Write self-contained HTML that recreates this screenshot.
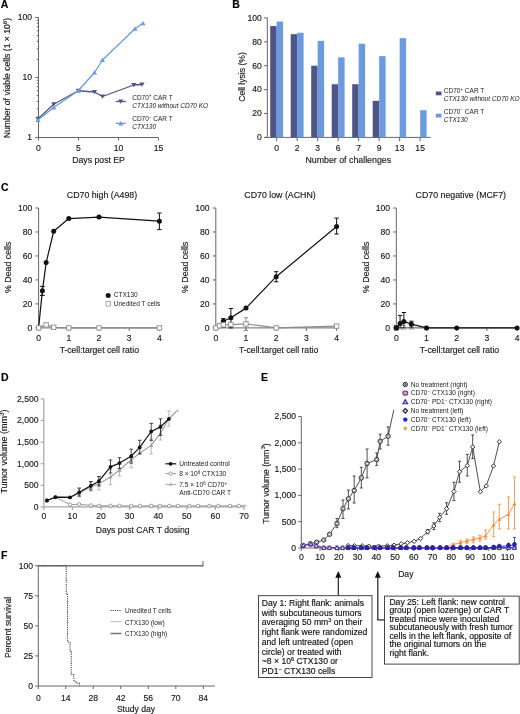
<!DOCTYPE html>
<html><head><meta charset="utf-8"><style>
html,body{margin:0;padding:0;background:#fff;width:520px;height:714px;overflow:hidden}
svg{display:block;filter:blur(0.35px);font-family:"Liberation Sans",sans-serif}
</style></head><body>
<svg width="520" height="714" viewBox="0 0 520 714">
<text x="0.80" y="7.80" font-size="10.5" text-anchor="start" font-weight="bold" font-style="normal" fill="#000" stroke="#000" stroke-width="0.15">A</text>
<line x1="38.50" y1="17.50" x2="38.50" y2="137.50" stroke="#666666" stroke-width="1"/>
<line x1="38.50" y1="137.50" x2="158.00" y2="137.50" stroke="#666666" stroke-width="1"/>
<line x1="35.30" y1="137.50" x2="38.50" y2="137.50" stroke="#666666" stroke-width="1"/>
<line x1="35.30" y1="77.50" x2="38.50" y2="77.50" stroke="#666666" stroke-width="1"/>
<line x1="35.30" y1="17.50" x2="38.50" y2="17.50" stroke="#666666" stroke-width="1"/>
<line x1="36.70" y1="119.44" x2="38.50" y2="119.44" stroke="#666666" stroke-width="1"/>
<line x1="36.70" y1="108.87" x2="38.50" y2="108.87" stroke="#666666" stroke-width="1"/>
<line x1="36.70" y1="101.38" x2="38.50" y2="101.38" stroke="#666666" stroke-width="1"/>
<line x1="36.70" y1="95.56" x2="38.50" y2="95.56" stroke="#666666" stroke-width="1"/>
<line x1="36.70" y1="90.81" x2="38.50" y2="90.81" stroke="#666666" stroke-width="1"/>
<line x1="36.70" y1="86.79" x2="38.50" y2="86.79" stroke="#666666" stroke-width="1"/>
<line x1="36.70" y1="83.31" x2="38.50" y2="83.31" stroke="#666666" stroke-width="1"/>
<line x1="36.70" y1="80.25" x2="38.50" y2="80.25" stroke="#666666" stroke-width="1"/>
<line x1="36.70" y1="59.44" x2="38.50" y2="59.44" stroke="#666666" stroke-width="1"/>
<line x1="36.70" y1="48.87" x2="38.50" y2="48.87" stroke="#666666" stroke-width="1"/>
<line x1="36.70" y1="41.38" x2="38.50" y2="41.38" stroke="#666666" stroke-width="1"/>
<line x1="36.70" y1="35.56" x2="38.50" y2="35.56" stroke="#666666" stroke-width="1"/>
<line x1="36.70" y1="30.81" x2="38.50" y2="30.81" stroke="#666666" stroke-width="1"/>
<line x1="36.70" y1="26.79" x2="38.50" y2="26.79" stroke="#666666" stroke-width="1"/>
<line x1="36.70" y1="23.31" x2="38.50" y2="23.31" stroke="#666666" stroke-width="1"/>
<line x1="36.70" y1="20.25" x2="38.50" y2="20.25" stroke="#666666" stroke-width="1"/>
<line x1="38.50" y1="137.50" x2="38.50" y2="140.50" stroke="#666666" stroke-width="1"/>
<text x="38.50" y="151.10" font-size="8.6" text-anchor="middle" font-weight="normal" font-style="normal" fill="#1a1a1a" stroke="#1a1a1a" stroke-width="0.15">0</text>
<line x1="78.50" y1="137.50" x2="78.50" y2="140.50" stroke="#666666" stroke-width="1"/>
<text x="78.50" y="151.10" font-size="8.6" text-anchor="middle" font-weight="normal" font-style="normal" fill="#1a1a1a" stroke="#1a1a1a" stroke-width="0.15">5</text>
<line x1="118.50" y1="137.50" x2="118.50" y2="140.50" stroke="#666666" stroke-width="1"/>
<text x="118.50" y="151.10" font-size="8.6" text-anchor="middle" font-weight="normal" font-style="normal" fill="#1a1a1a" stroke="#1a1a1a" stroke-width="0.15">10</text>
<line x1="158.50" y1="137.50" x2="158.50" y2="140.50" stroke="#666666" stroke-width="1"/>
<text x="158.50" y="151.10" font-size="8.6" text-anchor="middle" font-weight="normal" font-style="normal" fill="#1a1a1a" stroke="#1a1a1a" stroke-width="0.15">15</text>
<text x="32.00" y="140.30" font-size="8.6" text-anchor="end" font-weight="normal" font-style="normal" fill="#1a1a1a" stroke="#1a1a1a" stroke-width="0.15">1</text>
<text x="32.00" y="80.30" font-size="8.6" text-anchor="end" font-weight="normal" font-style="normal" fill="#1a1a1a" stroke="#1a1a1a" stroke-width="0.15">10</text>
<text x="32.00" y="20.30" font-size="8.6" text-anchor="end" font-weight="normal" font-style="normal" fill="#1a1a1a" stroke="#1a1a1a" stroke-width="0.15">100</text>
<text x="98.60" y="162.60" font-size="8.7" text-anchor="middle" font-weight="normal" font-style="normal" fill="#1a1a1a" stroke="#1a1a1a" stroke-width="0.15">Days post EP</text>
<text x="10.00" y="78.00" font-size="8.6" text-anchor="middle" font-weight="normal" font-style="normal" fill="#1a1a1a" stroke="#1a1a1a" stroke-width="0.15" transform="rotate(-90 10 78)">Number of viable cells (1 × 10<tspan dy="-3.3" font-size="6.2">6</tspan><tspan dy="3.3">)</tspan></text>
<polyline points="38.00,118.75 53.75,104.25 78.25,90.75 94.50,92.00 102.50,96.50 133.75,85.00 142.00,84.50" fill="none" stroke="#4f5686" stroke-width="1.3" stroke-linejoin="round"/>
<polygon points="35.40,116.67 40.60,116.67 38.00,121.09" fill="#4f5686"/>
<polygon points="51.15,102.17 56.35,102.17 53.75,106.59" fill="#4f5686"/>
<polygon points="75.65,88.67 80.85,88.67 78.25,93.09" fill="#4f5686"/>
<polygon points="91.90,89.92 97.10,89.92 94.50,94.34" fill="#4f5686"/>
<polygon points="99.90,94.42 105.10,94.42 102.50,98.84" fill="#4f5686"/>
<polygon points="131.15,82.92 136.35,82.92 133.75,87.34" fill="#4f5686"/>
<polygon points="139.40,82.42 144.60,82.42 142.00,86.84" fill="#4f5686"/>
<polyline points="38.00,120.00 53.75,107.50 78.25,90.75 94.50,72.50 102.50,60.00 135.00,28.75 143.00,23.25" fill="none" stroke="#6b9ae0" stroke-width="1.3" stroke-linejoin="round"/>
<polygon points="35.40,122.08 40.60,122.08 38.00,117.66" fill="#6b9ae0"/>
<polygon points="51.15,109.58 56.35,109.58 53.75,105.16" fill="#6b9ae0"/>
<polygon points="75.65,92.83 80.85,92.83 78.25,88.41" fill="#6b9ae0"/>
<polygon points="91.90,74.58 97.10,74.58 94.50,70.16" fill="#6b9ae0"/>
<polygon points="99.90,62.08 105.10,62.08 102.50,57.66" fill="#6b9ae0"/>
<polygon points="132.40,30.83 137.60,30.83 135.00,26.41" fill="#6b9ae0"/>
<polygon points="140.40,25.33 145.60,25.33 143.00,20.91" fill="#6b9ae0"/>
<line x1="115.70" y1="101.50" x2="125.80" y2="101.50" stroke="#4f5686" stroke-width="1.3"/>
<polygon points="118.10,99.42 123.30,99.42 120.70,103.84" fill="#4f5686"/>
<line x1="115.70" y1="123.30" x2="125.80" y2="123.30" stroke="#6b9ae0" stroke-width="1.3"/>
<polygon points="118.10,125.38 123.30,125.38 120.70,120.96" fill="#6b9ae0"/>
<text x="132.20" y="99.50" font-size="6.5" text-anchor="start" font-weight="normal" font-style="normal" fill="#1a1a1a">CD70<tspan dy="-2.6" font-size="4.5">+</tspan><tspan dy="2.6"> CAR T</tspan></text>
<text x="132.20" y="107.60" font-size="6.5" text-anchor="start" font-weight="normal" font-style="italic" fill="#1a1a1a">CTX130 without CD70 KO</text>
<text x="132.20" y="121.10" font-size="6.5" text-anchor="start" font-weight="normal" font-style="normal" fill="#1a1a1a">CD70<tspan dy="-2.6" font-size="4.5">−</tspan><tspan dy="2.6"> CAR T</tspan></text>
<text x="132.20" y="129.40" font-size="6.5" text-anchor="start" font-weight="normal" font-style="italic" fill="#1a1a1a">CTX130</text>
<text x="232.30" y="7.80" font-size="10.5" text-anchor="start" font-weight="bold" font-style="normal" fill="#000" stroke="#000" stroke-width="0.15">B</text>
<line x1="267.30" y1="17.90" x2="267.30" y2="137.40" stroke="#666666" stroke-width="1"/>
<line x1="264.10" y1="137.40" x2="430.60" y2="137.40" stroke="#666666" stroke-width="1"/>
<line x1="264.10" y1="137.40" x2="267.30" y2="137.40" stroke="#666666" stroke-width="1"/>
<text x="261.80" y="140.20" font-size="8.6" text-anchor="end" font-weight="normal" font-style="normal" fill="#1a1a1a" stroke="#1a1a1a" stroke-width="0.15">0</text>
<line x1="264.10" y1="113.50" x2="267.30" y2="113.50" stroke="#666666" stroke-width="1"/>
<text x="261.80" y="116.30" font-size="8.6" text-anchor="end" font-weight="normal" font-style="normal" fill="#1a1a1a" stroke="#1a1a1a" stroke-width="0.15">20</text>
<line x1="264.10" y1="89.60" x2="267.30" y2="89.60" stroke="#666666" stroke-width="1"/>
<text x="261.80" y="92.40" font-size="8.6" text-anchor="end" font-weight="normal" font-style="normal" fill="#1a1a1a" stroke="#1a1a1a" stroke-width="0.15">40</text>
<line x1="264.10" y1="65.70" x2="267.30" y2="65.70" stroke="#666666" stroke-width="1"/>
<text x="261.80" y="68.50" font-size="8.6" text-anchor="end" font-weight="normal" font-style="normal" fill="#1a1a1a" stroke="#1a1a1a" stroke-width="0.15">60</text>
<line x1="264.10" y1="41.80" x2="267.30" y2="41.80" stroke="#666666" stroke-width="1"/>
<text x="261.80" y="44.60" font-size="8.6" text-anchor="end" font-weight="normal" font-style="normal" fill="#1a1a1a" stroke="#1a1a1a" stroke-width="0.15">80</text>
<line x1="264.10" y1="17.90" x2="267.30" y2="17.90" stroke="#666666" stroke-width="1"/>
<text x="261.80" y="20.70" font-size="8.6" text-anchor="end" font-weight="normal" font-style="normal" fill="#1a1a1a" stroke="#1a1a1a" stroke-width="0.15">100</text>
<rect x="270.20" y="26.03" width="6.45" height="111.37" fill="#4f5686"/>
<rect x="276.65" y="21.48" width="6.45" height="115.92" fill="#6b9ae0"/>
<text x="276.65" y="151.30" font-size="8.6" text-anchor="middle" font-weight="normal" font-style="normal" fill="#1a1a1a" stroke="#1a1a1a" stroke-width="0.15">0</text>
<line x1="276.65" y1="137.40" x2="276.65" y2="141.20" stroke="#666666" stroke-width="1"/>
<rect x="290.70" y="34.15" width="6.45" height="103.25" fill="#4f5686"/>
<rect x="297.15" y="32.72" width="6.45" height="104.68" fill="#6b9ae0"/>
<text x="297.15" y="151.30" font-size="8.6" text-anchor="middle" font-weight="normal" font-style="normal" fill="#1a1a1a" stroke="#1a1a1a" stroke-width="0.15">2</text>
<line x1="297.15" y1="137.40" x2="297.15" y2="141.20" stroke="#666666" stroke-width="1"/>
<rect x="311.20" y="65.70" width="6.45" height="71.70" fill="#4f5686"/>
<rect x="317.65" y="40.84" width="6.45" height="96.56" fill="#6b9ae0"/>
<text x="317.65" y="151.30" font-size="8.6" text-anchor="middle" font-weight="normal" font-style="normal" fill="#1a1a1a" stroke="#1a1a1a" stroke-width="0.15">3</text>
<line x1="317.65" y1="137.40" x2="317.65" y2="141.20" stroke="#666666" stroke-width="1"/>
<rect x="331.70" y="84.22" width="6.45" height="53.18" fill="#4f5686"/>
<rect x="338.15" y="57.34" width="6.45" height="80.06" fill="#6b9ae0"/>
<text x="338.15" y="151.30" font-size="8.6" text-anchor="middle" font-weight="normal" font-style="normal" fill="#1a1a1a" stroke="#1a1a1a" stroke-width="0.15">6</text>
<line x1="338.15" y1="137.40" x2="338.15" y2="141.20" stroke="#666666" stroke-width="1"/>
<rect x="352.20" y="84.22" width="6.45" height="53.18" fill="#4f5686"/>
<rect x="358.65" y="43.71" width="6.45" height="93.69" fill="#6b9ae0"/>
<text x="358.65" y="151.30" font-size="8.6" text-anchor="middle" font-weight="normal" font-style="normal" fill="#1a1a1a" stroke="#1a1a1a" stroke-width="0.15">7</text>
<line x1="358.65" y1="137.40" x2="358.65" y2="141.20" stroke="#666666" stroke-width="1"/>
<rect x="372.70" y="100.83" width="6.45" height="36.57" fill="#4f5686"/>
<rect x="379.15" y="56.14" width="6.45" height="81.26" fill="#6b9ae0"/>
<text x="379.15" y="151.30" font-size="8.6" text-anchor="middle" font-weight="normal" font-style="normal" fill="#1a1a1a" stroke="#1a1a1a" stroke-width="0.15">9</text>
<line x1="379.15" y1="137.40" x2="379.15" y2="141.20" stroke="#666666" stroke-width="1"/>
<rect x="399.65" y="38.22" width="6.45" height="99.19" fill="#6b9ae0"/>
<text x="399.65" y="151.30" font-size="8.6" text-anchor="middle" font-weight="normal" font-style="normal" fill="#1a1a1a" stroke="#1a1a1a" stroke-width="0.15">13</text>
<line x1="399.65" y1="137.40" x2="399.65" y2="141.20" stroke="#666666" stroke-width="1"/>
<rect x="420.15" y="110.27" width="6.45" height="27.13" fill="#6b9ae0"/>
<text x="420.15" y="151.30" font-size="8.6" text-anchor="middle" font-weight="normal" font-style="normal" fill="#1a1a1a" stroke="#1a1a1a" stroke-width="0.15">15</text>
<line x1="420.15" y1="137.40" x2="420.15" y2="141.20" stroke="#666666" stroke-width="1"/>
<text x="348.30" y="162.90" font-size="8.8" text-anchor="middle" font-weight="normal" font-style="normal" fill="#1a1a1a" stroke="#1a1a1a" stroke-width="0.15">Number of challenges</text>
<text x="244.50" y="77.00" font-size="8.6" text-anchor="middle" font-weight="normal" font-style="normal" fill="#1a1a1a" stroke="#1a1a1a" stroke-width="0.15" transform="rotate(-90 244.5 77)">Cell lysis (%)</text>
<rect x="435.8" y="91.5" width="5.7" height="3.8" fill="#4f5686"/>
<rect x="435.8" y="113.7" width="5.7" height="3.8" fill="#6b9ae0"/>
<text x="443.80" y="93.40" font-size="6.5" text-anchor="start" font-weight="normal" font-style="normal" fill="#1a1a1a">CD70<tspan dy="-2.6" font-size="4.5">+</tspan><tspan dy="2.6"> CAR T</tspan></text>
<text x="443.80" y="101.30" font-size="6.5" text-anchor="start" font-weight="normal" font-style="italic" fill="#1a1a1a">CTX130 without CD70 KO</text>
<text x="443.80" y="113.80" font-size="6.5" text-anchor="start" font-weight="normal" font-style="normal" fill="#1a1a1a">CD70<tspan dy="-2.6" font-size="4.5">−</tspan><tspan dy="2.6"> CAR T</tspan></text>
<text x="443.80" y="122.30" font-size="6.5" text-anchor="start" font-weight="normal" font-style="italic" fill="#1a1a1a">CTX130</text>
<text x="1.00" y="191.00" font-size="10.5" text-anchor="start" font-weight="bold" font-style="normal" fill="#000" stroke="#000" stroke-width="0.15">C</text>
<line x1="38.60" y1="208.00" x2="38.60" y2="327.90" stroke="#666666" stroke-width="1"/>
<line x1="38.60" y1="327.90" x2="159.40" y2="327.90" stroke="#666666" stroke-width="1"/>
<line x1="35.40" y1="327.90" x2="38.60" y2="327.90" stroke="#666666" stroke-width="1"/>
<text x="32.30" y="330.80" font-size="8.6" text-anchor="end" font-weight="normal" font-style="normal" fill="#1a1a1a" stroke="#1a1a1a" stroke-width="0.15">0</text>
<line x1="35.40" y1="303.92" x2="38.60" y2="303.92" stroke="#666666" stroke-width="1"/>
<text x="32.30" y="306.82" font-size="8.6" text-anchor="end" font-weight="normal" font-style="normal" fill="#1a1a1a" stroke="#1a1a1a" stroke-width="0.15">20</text>
<line x1="35.40" y1="279.94" x2="38.60" y2="279.94" stroke="#666666" stroke-width="1"/>
<text x="32.30" y="282.84" font-size="8.6" text-anchor="end" font-weight="normal" font-style="normal" fill="#1a1a1a" stroke="#1a1a1a" stroke-width="0.15">40</text>
<line x1="35.40" y1="255.96" x2="38.60" y2="255.96" stroke="#666666" stroke-width="1"/>
<text x="32.30" y="258.86" font-size="8.6" text-anchor="end" font-weight="normal" font-style="normal" fill="#1a1a1a" stroke="#1a1a1a" stroke-width="0.15">60</text>
<line x1="35.40" y1="231.98" x2="38.60" y2="231.98" stroke="#666666" stroke-width="1"/>
<text x="32.30" y="234.88" font-size="8.6" text-anchor="end" font-weight="normal" font-style="normal" fill="#1a1a1a" stroke="#1a1a1a" stroke-width="0.15">80</text>
<line x1="35.40" y1="208.00" x2="38.60" y2="208.00" stroke="#666666" stroke-width="1"/>
<text x="32.30" y="210.90" font-size="8.6" text-anchor="end" font-weight="normal" font-style="normal" fill="#1a1a1a" stroke="#1a1a1a" stroke-width="0.15">100</text>
<line x1="38.60" y1="327.90" x2="38.60" y2="330.90" stroke="#666666" stroke-width="1"/>
<text x="38.60" y="341.40" font-size="8.6" text-anchor="middle" font-weight="normal" font-style="normal" fill="#1a1a1a" stroke="#1a1a1a" stroke-width="0.15">0</text>
<line x1="68.80" y1="327.90" x2="68.80" y2="330.90" stroke="#666666" stroke-width="1"/>
<text x="68.80" y="341.40" font-size="8.6" text-anchor="middle" font-weight="normal" font-style="normal" fill="#1a1a1a" stroke="#1a1a1a" stroke-width="0.15">1</text>
<line x1="99.00" y1="327.90" x2="99.00" y2="330.90" stroke="#666666" stroke-width="1"/>
<text x="99.00" y="341.40" font-size="8.6" text-anchor="middle" font-weight="normal" font-style="normal" fill="#1a1a1a" stroke="#1a1a1a" stroke-width="0.15">2</text>
<line x1="129.20" y1="327.90" x2="129.20" y2="330.90" stroke="#666666" stroke-width="1"/>
<text x="129.20" y="341.40" font-size="8.6" text-anchor="middle" font-weight="normal" font-style="normal" fill="#1a1a1a" stroke="#1a1a1a" stroke-width="0.15">3</text>
<line x1="159.40" y1="327.90" x2="159.40" y2="330.90" stroke="#666666" stroke-width="1"/>
<text x="159.40" y="341.40" font-size="8.6" text-anchor="middle" font-weight="normal" font-style="normal" fill="#1a1a1a" stroke="#1a1a1a" stroke-width="0.15">4</text>
<text x="102.00" y="197.80" font-size="8.8" text-anchor="middle" font-weight="normal" font-style="normal" fill="#1a1a1a" stroke="#1a1a1a" stroke-width="0.15">CD70 high (A498)</text>
<text x="99.30" y="353.30" font-size="8.6" text-anchor="middle" font-weight="normal" font-style="normal" fill="#1a1a1a" stroke="#1a1a1a" stroke-width="0.15">T-cell:target cell ratio</text>
<text x="10.60" y="267.30" font-size="8.8" text-anchor="middle" font-weight="normal" font-style="normal" fill="#1a1a1a" stroke="#1a1a1a" stroke-width="0.15" transform="rotate(-90 10.600000000000001 267.3)">% Dead cells</text>
<line x1="215.80" y1="208.00" x2="215.80" y2="327.90" stroke="#666666" stroke-width="1"/>
<line x1="215.80" y1="327.90" x2="336.60" y2="327.90" stroke="#666666" stroke-width="1"/>
<line x1="212.60" y1="327.90" x2="215.80" y2="327.90" stroke="#666666" stroke-width="1"/>
<text x="209.50" y="330.80" font-size="8.6" text-anchor="end" font-weight="normal" font-style="normal" fill="#1a1a1a" stroke="#1a1a1a" stroke-width="0.15">0</text>
<line x1="212.60" y1="303.92" x2="215.80" y2="303.92" stroke="#666666" stroke-width="1"/>
<text x="209.50" y="306.82" font-size="8.6" text-anchor="end" font-weight="normal" font-style="normal" fill="#1a1a1a" stroke="#1a1a1a" stroke-width="0.15">20</text>
<line x1="212.60" y1="279.94" x2="215.80" y2="279.94" stroke="#666666" stroke-width="1"/>
<text x="209.50" y="282.84" font-size="8.6" text-anchor="end" font-weight="normal" font-style="normal" fill="#1a1a1a" stroke="#1a1a1a" stroke-width="0.15">40</text>
<line x1="212.60" y1="255.96" x2="215.80" y2="255.96" stroke="#666666" stroke-width="1"/>
<text x="209.50" y="258.86" font-size="8.6" text-anchor="end" font-weight="normal" font-style="normal" fill="#1a1a1a" stroke="#1a1a1a" stroke-width="0.15">60</text>
<line x1="212.60" y1="231.98" x2="215.80" y2="231.98" stroke="#666666" stroke-width="1"/>
<text x="209.50" y="234.88" font-size="8.6" text-anchor="end" font-weight="normal" font-style="normal" fill="#1a1a1a" stroke="#1a1a1a" stroke-width="0.15">80</text>
<line x1="212.60" y1="208.00" x2="215.80" y2="208.00" stroke="#666666" stroke-width="1"/>
<text x="209.50" y="210.90" font-size="8.6" text-anchor="end" font-weight="normal" font-style="normal" fill="#1a1a1a" stroke="#1a1a1a" stroke-width="0.15">100</text>
<line x1="215.80" y1="327.90" x2="215.80" y2="330.90" stroke="#666666" stroke-width="1"/>
<text x="215.80" y="341.40" font-size="8.6" text-anchor="middle" font-weight="normal" font-style="normal" fill="#1a1a1a" stroke="#1a1a1a" stroke-width="0.15">0</text>
<line x1="246.00" y1="327.90" x2="246.00" y2="330.90" stroke="#666666" stroke-width="1"/>
<text x="246.00" y="341.40" font-size="8.6" text-anchor="middle" font-weight="normal" font-style="normal" fill="#1a1a1a" stroke="#1a1a1a" stroke-width="0.15">1</text>
<line x1="276.20" y1="327.90" x2="276.20" y2="330.90" stroke="#666666" stroke-width="1"/>
<text x="276.20" y="341.40" font-size="8.6" text-anchor="middle" font-weight="normal" font-style="normal" fill="#1a1a1a" stroke="#1a1a1a" stroke-width="0.15">2</text>
<line x1="306.40" y1="327.90" x2="306.40" y2="330.90" stroke="#666666" stroke-width="1"/>
<text x="306.40" y="341.40" font-size="8.6" text-anchor="middle" font-weight="normal" font-style="normal" fill="#1a1a1a" stroke="#1a1a1a" stroke-width="0.15">3</text>
<line x1="336.60" y1="327.90" x2="336.60" y2="330.90" stroke="#666666" stroke-width="1"/>
<text x="336.60" y="341.40" font-size="8.6" text-anchor="middle" font-weight="normal" font-style="normal" fill="#1a1a1a" stroke="#1a1a1a" stroke-width="0.15">4</text>
<text x="280.00" y="197.80" font-size="8.8" text-anchor="middle" font-weight="normal" font-style="normal" fill="#1a1a1a" stroke="#1a1a1a" stroke-width="0.15">CD70 low (ACHN)</text>
<text x="278.60" y="353.30" font-size="8.6" text-anchor="middle" font-weight="normal" font-style="normal" fill="#1a1a1a" stroke="#1a1a1a" stroke-width="0.15">T-cell:target cell ratio</text>
<text x="188.00" y="267.30" font-size="8.8" text-anchor="middle" font-weight="normal" font-style="normal" fill="#1a1a1a" stroke="#1a1a1a" stroke-width="0.15" transform="rotate(-90 188.0 267.3)">% Dead cells</text>
<line x1="396.30" y1="208.00" x2="396.30" y2="327.90" stroke="#666666" stroke-width="1"/>
<line x1="396.30" y1="327.90" x2="517.10" y2="327.90" stroke="#666666" stroke-width="1"/>
<line x1="393.10" y1="327.90" x2="396.30" y2="327.90" stroke="#666666" stroke-width="1"/>
<text x="390.00" y="330.80" font-size="8.6" text-anchor="end" font-weight="normal" font-style="normal" fill="#1a1a1a" stroke="#1a1a1a" stroke-width="0.15">0</text>
<line x1="393.10" y1="303.92" x2="396.30" y2="303.92" stroke="#666666" stroke-width="1"/>
<text x="390.00" y="306.82" font-size="8.6" text-anchor="end" font-weight="normal" font-style="normal" fill="#1a1a1a" stroke="#1a1a1a" stroke-width="0.15">20</text>
<line x1="393.10" y1="279.94" x2="396.30" y2="279.94" stroke="#666666" stroke-width="1"/>
<text x="390.00" y="282.84" font-size="8.6" text-anchor="end" font-weight="normal" font-style="normal" fill="#1a1a1a" stroke="#1a1a1a" stroke-width="0.15">40</text>
<line x1="393.10" y1="255.96" x2="396.30" y2="255.96" stroke="#666666" stroke-width="1"/>
<text x="390.00" y="258.86" font-size="8.6" text-anchor="end" font-weight="normal" font-style="normal" fill="#1a1a1a" stroke="#1a1a1a" stroke-width="0.15">60</text>
<line x1="393.10" y1="231.98" x2="396.30" y2="231.98" stroke="#666666" stroke-width="1"/>
<text x="390.00" y="234.88" font-size="8.6" text-anchor="end" font-weight="normal" font-style="normal" fill="#1a1a1a" stroke="#1a1a1a" stroke-width="0.15">80</text>
<line x1="393.10" y1="208.00" x2="396.30" y2="208.00" stroke="#666666" stroke-width="1"/>
<text x="390.00" y="210.90" font-size="8.6" text-anchor="end" font-weight="normal" font-style="normal" fill="#1a1a1a" stroke="#1a1a1a" stroke-width="0.15">100</text>
<line x1="396.30" y1="327.90" x2="396.30" y2="330.90" stroke="#666666" stroke-width="1"/>
<text x="396.30" y="341.40" font-size="8.6" text-anchor="middle" font-weight="normal" font-style="normal" fill="#1a1a1a" stroke="#1a1a1a" stroke-width="0.15">0</text>
<line x1="426.50" y1="327.90" x2="426.50" y2="330.90" stroke="#666666" stroke-width="1"/>
<text x="426.50" y="341.40" font-size="8.6" text-anchor="middle" font-weight="normal" font-style="normal" fill="#1a1a1a" stroke="#1a1a1a" stroke-width="0.15">1</text>
<line x1="456.70" y1="327.90" x2="456.70" y2="330.90" stroke="#666666" stroke-width="1"/>
<text x="456.70" y="341.40" font-size="8.6" text-anchor="middle" font-weight="normal" font-style="normal" fill="#1a1a1a" stroke="#1a1a1a" stroke-width="0.15">2</text>
<line x1="486.90" y1="327.90" x2="486.90" y2="330.90" stroke="#666666" stroke-width="1"/>
<text x="486.90" y="341.40" font-size="8.6" text-anchor="middle" font-weight="normal" font-style="normal" fill="#1a1a1a" stroke="#1a1a1a" stroke-width="0.15">3</text>
<line x1="517.10" y1="327.90" x2="517.10" y2="330.90" stroke="#666666" stroke-width="1"/>
<text x="517.10" y="341.40" font-size="8.6" text-anchor="middle" font-weight="normal" font-style="normal" fill="#1a1a1a" stroke="#1a1a1a" stroke-width="0.15">4</text>
<text x="460.80" y="197.80" font-size="8.8" text-anchor="middle" font-weight="normal" font-style="normal" fill="#1a1a1a" stroke="#1a1a1a" stroke-width="0.15">CD70 negative (MCF7)</text>
<text x="459.50" y="353.30" font-size="8.6" text-anchor="middle" font-weight="normal" font-style="normal" fill="#1a1a1a" stroke="#1a1a1a" stroke-width="0.15">T-cell:target cell ratio</text>
<text x="369.10" y="267.30" font-size="8.8" text-anchor="middle" font-weight="normal" font-style="normal" fill="#1a1a1a" stroke="#1a1a1a" stroke-width="0.15" transform="rotate(-90 369.1 267.3)">% Dead cells</text>
<line x1="42.38" y1="286.40" x2="42.38" y2="295.40" stroke="#111" stroke-width="1"/>
<line x1="39.98" y1="286.40" x2="44.77" y2="286.40" stroke="#111" stroke-width="1"/>
<line x1="39.98" y1="295.40" x2="44.77" y2="295.40" stroke="#111" stroke-width="1"/>
<line x1="159.40" y1="213.00" x2="159.40" y2="229.60" stroke="#111" stroke-width="1"/>
<line x1="157.20" y1="213.00" x2="161.60" y2="213.00" stroke="#111" stroke-width="1"/>
<line x1="157.20" y1="229.60" x2="161.60" y2="229.60" stroke="#111" stroke-width="1"/>
<polyline points="38.60,327.90 42.38,290.85 46.15,262.55 53.70,231.26 68.80,218.55 99.00,217.11 159.40,221.19" fill="none" stroke="#111" stroke-width="1.2" stroke-linejoin="round"/>
<circle cx="42.38" cy="290.85" r="2.5" fill="#111"/>
<circle cx="46.15" cy="262.55" r="2.5" fill="#111"/>
<circle cx="53.70" cy="231.26" r="2.5" fill="#111"/>
<circle cx="68.80" cy="218.55" r="2.5" fill="#111"/>
<circle cx="99.00" cy="217.11" r="2.5" fill="#111"/>
<circle cx="159.40" cy="221.19" r="2.5" fill="#111"/>
<polyline points="38.60,327.90 46.15,324.90 53.70,327.30 68.80,327.90 99.00,327.90 159.40,327.90" fill="none" stroke="#8c8c8c" stroke-width="1.2" stroke-linejoin="round"/>
<rect x="36.40" y="325.70" width="4.40" height="4.40" fill="#fff" stroke="#8c8c8c" stroke-width="0.9"/>
<rect x="43.95" y="322.70" width="4.40" height="4.40" fill="#fff" stroke="#8c8c8c" stroke-width="0.9"/>
<rect x="51.50" y="325.10" width="4.40" height="4.40" fill="#fff" stroke="#8c8c8c" stroke-width="0.9"/>
<rect x="66.60" y="325.70" width="4.40" height="4.40" fill="#fff" stroke="#8c8c8c" stroke-width="0.9"/>
<rect x="96.80" y="325.70" width="4.40" height="4.40" fill="#fff" stroke="#8c8c8c" stroke-width="0.9"/>
<rect x="157.20" y="325.70" width="4.40" height="4.40" fill="#fff" stroke="#8c8c8c" stroke-width="0.9"/>
<circle cx="108.20" cy="295.60" r="2.5" fill="#111"/>
<rect x="106.00" y="301.60" width="4.40" height="4.40" fill="#fff" stroke="#999" stroke-width="0.9"/>
<text x="113.80" y="297.30" font-size="6.5" text-anchor="start" font-weight="normal" font-style="normal" fill="#1a1a1a">CTX130</text>
<text x="113.80" y="305.80" font-size="6.5" text-anchor="start" font-weight="normal" font-style="normal" fill="#1a1a1a">Unedited T cells</text>
<line x1="223.35" y1="318.60" x2="223.35" y2="327.00" stroke="#111" stroke-width="1"/>
<line x1="221.15" y1="318.60" x2="225.55" y2="318.60" stroke="#111" stroke-width="1"/>
<line x1="221.15" y1="327.00" x2="225.55" y2="327.00" stroke="#111" stroke-width="1"/>
<line x1="230.90" y1="308.50" x2="230.90" y2="327.90" stroke="#111" stroke-width="1"/>
<line x1="228.70" y1="308.50" x2="233.10" y2="308.50" stroke="#111" stroke-width="1"/>
<line x1="228.70" y1="327.90" x2="233.10" y2="327.90" stroke="#111" stroke-width="1"/>
<line x1="276.20" y1="271.70" x2="276.20" y2="281.80" stroke="#111" stroke-width="1"/>
<line x1="274.00" y1="271.70" x2="278.40" y2="271.70" stroke="#111" stroke-width="1"/>
<line x1="274.00" y1="281.80" x2="278.40" y2="281.80" stroke="#111" stroke-width="1"/>
<line x1="336.60" y1="218.10" x2="336.60" y2="234.00" stroke="#111" stroke-width="1"/>
<line x1="334.40" y1="218.10" x2="338.80" y2="218.10" stroke="#111" stroke-width="1"/>
<line x1="334.40" y1="234.00" x2="338.80" y2="234.00" stroke="#111" stroke-width="1"/>
<polyline points="223.35,321.31 230.90,317.71 246.00,308.12 276.20,276.70 336.60,226.46" fill="none" stroke="#111" stroke-width="1.2" stroke-linejoin="round"/>
<circle cx="223.35" cy="321.31" r="2.5" fill="#111"/>
<circle cx="230.90" cy="317.71" r="2.5" fill="#111"/>
<circle cx="246.00" cy="308.12" r="2.5" fill="#111"/>
<circle cx="276.20" cy="276.70" r="2.5" fill="#111"/>
<circle cx="336.60" cy="226.46" r="2.5" fill="#111"/>
<line x1="246.00" y1="317.70" x2="246.00" y2="330.50" stroke="#8c8c8c" stroke-width="1"/>
<line x1="243.80" y1="317.70" x2="248.20" y2="317.70" stroke="#8c8c8c" stroke-width="1"/>
<line x1="243.80" y1="330.50" x2="248.20" y2="330.50" stroke="#8c8c8c" stroke-width="1"/>
<polyline points="215.80,327.90 219.58,325.74 223.35,324.78 230.90,324.54 246.00,323.94 276.20,327.90 336.60,326.10" fill="none" stroke="#8c8c8c" stroke-width="1.2" stroke-linejoin="round"/>
<rect x="213.60" y="325.70" width="4.40" height="4.40" fill="#fff" stroke="#8c8c8c" stroke-width="0.9"/>
<rect x="217.38" y="323.54" width="4.40" height="4.40" fill="#fff" stroke="#8c8c8c" stroke-width="0.9"/>
<rect x="221.15" y="322.58" width="4.40" height="4.40" fill="#fff" stroke="#8c8c8c" stroke-width="0.9"/>
<rect x="228.70" y="322.34" width="4.40" height="4.40" fill="#fff" stroke="#8c8c8c" stroke-width="0.9"/>
<rect x="243.80" y="321.74" width="4.40" height="4.40" fill="#fff" stroke="#8c8c8c" stroke-width="0.9"/>
<rect x="274.00" y="325.70" width="4.40" height="4.40" fill="#fff" stroke="#8c8c8c" stroke-width="0.9"/>
<rect x="334.40" y="323.90" width="4.40" height="4.40" fill="#fff" stroke="#8c8c8c" stroke-width="0.9"/>
<polyline points="396.30,327.90 400.07,327.30 403.85,327.54 411.40,327.54 426.50,327.90" fill="none" stroke="#8c8c8c" stroke-width="1" stroke-linejoin="round"/>
<rect x="398.07" y="325.30" width="4.00" height="4.00" fill="#fff" stroke="#bbb" stroke-width="0.8"/>
<rect x="401.85" y="325.54" width="4.00" height="4.00" fill="#fff" stroke="#bbb" stroke-width="0.8"/>
<rect x="409.40" y="325.54" width="4.00" height="4.00" fill="#fff" stroke="#bbb" stroke-width="0.8"/>
<rect x="424.50" y="325.90" width="4.00" height="4.00" fill="#fff" stroke="#bbb" stroke-width="0.8"/>
<line x1="400.07" y1="315.40" x2="400.07" y2="327.90" stroke="#111" stroke-width="1"/>
<line x1="397.88" y1="315.40" x2="402.27" y2="315.40" stroke="#111" stroke-width="1"/>
<line x1="397.88" y1="327.90" x2="402.27" y2="327.90" stroke="#111" stroke-width="1"/>
<line x1="403.85" y1="312.50" x2="403.85" y2="327.90" stroke="#111" stroke-width="1"/>
<line x1="401.65" y1="312.50" x2="406.05" y2="312.50" stroke="#111" stroke-width="1"/>
<line x1="401.65" y1="327.90" x2="406.05" y2="327.90" stroke="#111" stroke-width="1"/>
<line x1="411.40" y1="321.20" x2="411.40" y2="327.90" stroke="#111" stroke-width="1"/>
<line x1="409.20" y1="321.20" x2="413.60" y2="321.20" stroke="#111" stroke-width="1"/>
<line x1="409.20" y1="327.90" x2="413.60" y2="327.90" stroke="#111" stroke-width="1"/>
<polyline points="396.30,327.90 400.07,323.58 403.85,321.43 411.40,324.18 426.50,327.90 456.70,327.90 517.10,327.90" fill="none" stroke="#111" stroke-width="1.2" stroke-linejoin="round"/>
<circle cx="400.07" cy="323.58" r="2.5" fill="#111"/>
<circle cx="403.85" cy="321.43" r="2.5" fill="#111"/>
<circle cx="411.40" cy="324.18" r="2.5" fill="#111"/>
<circle cx="426.50" cy="327.90" r="2.5" fill="#111"/>
<circle cx="456.70" cy="327.90" r="2.5" fill="#111"/>
<circle cx="517.10" cy="327.90" r="2.5" fill="#111"/>
<rect x="394.10" y="325.70" width="4.40" height="4.40" fill="#111" stroke="#111" stroke-width="0.5"/>
<text x="1.00" y="381.00" font-size="10.5" text-anchor="start" font-weight="bold" font-style="normal" fill="#000" stroke="#000" stroke-width="0.15">D</text>
<line x1="43.80" y1="398.90" x2="43.80" y2="506.90" stroke="#a6a6a6" stroke-width="1.2"/>
<line x1="43.80" y1="506.90" x2="244.00" y2="506.90" stroke="#a6a6a6" stroke-width="1.2"/>
<line x1="40.60" y1="506.90" x2="43.80" y2="506.90" stroke="#a6a6a6" stroke-width="1.2"/>
<text x="38.60" y="509.70" font-size="8.6" text-anchor="end" font-weight="normal" font-style="normal" fill="#1a1a1a" stroke="#1a1a1a" stroke-width="0.15">0</text>
<line x1="40.60" y1="485.30" x2="43.80" y2="485.30" stroke="#a6a6a6" stroke-width="1.2"/>
<text x="38.60" y="488.10" font-size="8.6" text-anchor="end" font-weight="normal" font-style="normal" fill="#1a1a1a" stroke="#1a1a1a" stroke-width="0.15">500</text>
<line x1="40.60" y1="463.70" x2="43.80" y2="463.70" stroke="#a6a6a6" stroke-width="1.2"/>
<text x="38.60" y="466.50" font-size="8.6" text-anchor="end" font-weight="normal" font-style="normal" fill="#1a1a1a" stroke="#1a1a1a" stroke-width="0.15">1,000</text>
<line x1="40.60" y1="442.10" x2="43.80" y2="442.10" stroke="#a6a6a6" stroke-width="1.2"/>
<text x="38.60" y="444.90" font-size="8.6" text-anchor="end" font-weight="normal" font-style="normal" fill="#1a1a1a" stroke="#1a1a1a" stroke-width="0.15">1,500</text>
<line x1="40.60" y1="420.50" x2="43.80" y2="420.50" stroke="#a6a6a6" stroke-width="1.2"/>
<text x="38.60" y="423.30" font-size="8.6" text-anchor="end" font-weight="normal" font-style="normal" fill="#1a1a1a" stroke="#1a1a1a" stroke-width="0.15">2,000</text>
<line x1="40.60" y1="398.90" x2="43.80" y2="398.90" stroke="#a6a6a6" stroke-width="1.2"/>
<text x="38.60" y="401.70" font-size="8.6" text-anchor="end" font-weight="normal" font-style="normal" fill="#1a1a1a" stroke="#1a1a1a" stroke-width="0.15">2,500</text>
<line x1="43.80" y1="506.90" x2="43.80" y2="509.90" stroke="#a6a6a6" stroke-width="1.2"/>
<text x="43.80" y="518.90" font-size="8.6" text-anchor="middle" font-weight="normal" font-style="normal" fill="#1a1a1a" stroke="#1a1a1a" stroke-width="0.15">0</text>
<line x1="72.40" y1="506.90" x2="72.40" y2="509.90" stroke="#a6a6a6" stroke-width="1.2"/>
<text x="72.40" y="518.90" font-size="8.6" text-anchor="middle" font-weight="normal" font-style="normal" fill="#1a1a1a" stroke="#1a1a1a" stroke-width="0.15">10</text>
<line x1="101.00" y1="506.90" x2="101.00" y2="509.90" stroke="#a6a6a6" stroke-width="1.2"/>
<text x="101.00" y="518.90" font-size="8.6" text-anchor="middle" font-weight="normal" font-style="normal" fill="#1a1a1a" stroke="#1a1a1a" stroke-width="0.15">20</text>
<line x1="129.60" y1="506.90" x2="129.60" y2="509.90" stroke="#a6a6a6" stroke-width="1.2"/>
<text x="129.60" y="518.90" font-size="8.6" text-anchor="middle" font-weight="normal" font-style="normal" fill="#1a1a1a" stroke="#1a1a1a" stroke-width="0.15">30</text>
<line x1="158.20" y1="506.90" x2="158.20" y2="509.90" stroke="#a6a6a6" stroke-width="1.2"/>
<text x="158.20" y="518.90" font-size="8.6" text-anchor="middle" font-weight="normal" font-style="normal" fill="#1a1a1a" stroke="#1a1a1a" stroke-width="0.15">40</text>
<line x1="186.80" y1="506.90" x2="186.80" y2="509.90" stroke="#a6a6a6" stroke-width="1.2"/>
<text x="186.80" y="518.90" font-size="8.6" text-anchor="middle" font-weight="normal" font-style="normal" fill="#1a1a1a" stroke="#1a1a1a" stroke-width="0.15">50</text>
<line x1="215.40" y1="506.90" x2="215.40" y2="509.90" stroke="#a6a6a6" stroke-width="1.2"/>
<text x="215.40" y="518.90" font-size="8.6" text-anchor="middle" font-weight="normal" font-style="normal" fill="#1a1a1a" stroke="#1a1a1a" stroke-width="0.15">60</text>
<line x1="244.00" y1="506.90" x2="244.00" y2="509.90" stroke="#a6a6a6" stroke-width="1.2"/>
<text x="244.00" y="518.90" font-size="8.6" text-anchor="middle" font-weight="normal" font-style="normal" fill="#1a1a1a" stroke="#1a1a1a" stroke-width="0.15">70</text>
<text x="142.60" y="532.50" font-size="8.6" text-anchor="middle" font-weight="normal" font-style="normal" fill="#1a1a1a" stroke="#1a1a1a" stroke-width="0.15">Days post CAR T dosing</text>
<text x="7.20" y="451.50" font-size="9.0" text-anchor="middle" font-weight="normal" font-style="normal" fill="#1a1a1a" stroke="#1a1a1a" stroke-width="0.15" transform="rotate(-90 7.2 451.5)">Tumor volume (mm<tspan dy="-3.4" font-size="6.4">3</tspan><tspan dy="3.4">)</tspan></text>
<line x1="79.20" y1="489.00" x2="79.20" y2="497.00" stroke="#a8a8a8" stroke-width="0.8"/>
<line x1="77.40" y1="489.00" x2="81.00" y2="489.00" stroke="#a8a8a8" stroke-width="0.8"/>
<line x1="77.40" y1="497.00" x2="81.00" y2="497.00" stroke="#a8a8a8" stroke-width="0.8"/>
<line x1="90.80" y1="482.00" x2="90.80" y2="491.00" stroke="#a8a8a8" stroke-width="0.8"/>
<line x1="89.00" y1="482.00" x2="92.60" y2="482.00" stroke="#a8a8a8" stroke-width="0.8"/>
<line x1="89.00" y1="491.00" x2="92.60" y2="491.00" stroke="#a8a8a8" stroke-width="0.8"/>
<line x1="98.90" y1="477.00" x2="98.90" y2="490.00" stroke="#a8a8a8" stroke-width="0.8"/>
<line x1="97.10" y1="477.00" x2="100.70" y2="477.00" stroke="#a8a8a8" stroke-width="0.8"/>
<line x1="97.10" y1="490.00" x2="100.70" y2="490.00" stroke="#a8a8a8" stroke-width="0.8"/>
<line x1="110.50" y1="470.00" x2="110.50" y2="484.60" stroke="#a8a8a8" stroke-width="0.8"/>
<line x1="108.70" y1="470.00" x2="112.30" y2="470.00" stroke="#a8a8a8" stroke-width="0.8"/>
<line x1="108.70" y1="484.60" x2="112.30" y2="484.60" stroke="#a8a8a8" stroke-width="0.8"/>
<line x1="119.50" y1="464.00" x2="119.50" y2="476.00" stroke="#a8a8a8" stroke-width="0.8"/>
<line x1="117.70" y1="464.00" x2="121.30" y2="464.00" stroke="#a8a8a8" stroke-width="0.8"/>
<line x1="117.70" y1="476.00" x2="121.30" y2="476.00" stroke="#a8a8a8" stroke-width="0.8"/>
<line x1="131.20" y1="457.70" x2="131.20" y2="467.70" stroke="#a8a8a8" stroke-width="0.8"/>
<line x1="129.40" y1="457.70" x2="133.00" y2="457.70" stroke="#a8a8a8" stroke-width="0.8"/>
<line x1="129.40" y1="467.70" x2="133.00" y2="467.70" stroke="#a8a8a8" stroke-width="0.8"/>
<line x1="151.20" y1="439.20" x2="151.20" y2="453.80" stroke="#a8a8a8" stroke-width="0.8"/>
<line x1="149.40" y1="439.20" x2="153.00" y2="439.20" stroke="#a8a8a8" stroke-width="0.8"/>
<line x1="149.40" y1="453.80" x2="153.00" y2="453.80" stroke="#a8a8a8" stroke-width="0.8"/>
<line x1="160.50" y1="424.60" x2="160.50" y2="440.00" stroke="#a8a8a8" stroke-width="0.8"/>
<line x1="158.70" y1="424.60" x2="162.30" y2="424.60" stroke="#a8a8a8" stroke-width="0.8"/>
<line x1="158.70" y1="440.00" x2="162.30" y2="440.00" stroke="#a8a8a8" stroke-width="0.8"/>
<line x1="168.90" y1="411.00" x2="168.90" y2="426.20" stroke="#a8a8a8" stroke-width="0.8"/>
<line x1="167.10" y1="411.00" x2="170.70" y2="411.00" stroke="#a8a8a8" stroke-width="0.8"/>
<line x1="167.10" y1="426.20" x2="170.70" y2="426.20" stroke="#a8a8a8" stroke-width="0.8"/>
<polyline points="46.90,500.50 55.40,497.20 70.00,497.40 79.20,493.00 90.80,486.90 98.90,483.80 110.50,476.90 119.50,470.00 131.20,460.00 139.70,453.10 151.20,445.40 160.50,433.10 168.90,418.80 177.40,410.50" fill="none" stroke="#a0a0a0" stroke-width="1.2" stroke-linejoin="round"/>
<polygon points="44.80,502.18 49.00,502.18 46.90,498.61" fill="#a0a0a0"/>
<polygon points="53.30,498.88 57.50,498.88 55.40,495.31" fill="#a0a0a0"/>
<polygon points="67.90,499.08 72.10,499.08 70.00,495.51" fill="#a0a0a0"/>
<polygon points="77.10,494.68 81.30,494.68 79.20,491.11" fill="#a0a0a0"/>
<polygon points="88.70,488.58 92.90,488.58 90.80,485.01" fill="#a0a0a0"/>
<polygon points="96.80,485.48 101.00,485.48 98.90,481.91" fill="#a0a0a0"/>
<polygon points="108.40,478.58 112.60,478.58 110.50,475.01" fill="#a0a0a0"/>
<polygon points="117.40,471.68 121.60,471.68 119.50,468.11" fill="#a0a0a0"/>
<polygon points="129.10,461.68 133.30,461.68 131.20,458.11" fill="#a0a0a0"/>
<polygon points="137.60,454.78 141.80,454.78 139.70,451.21" fill="#a0a0a0"/>
<polygon points="149.10,447.08 153.30,447.08 151.20,443.51" fill="#a0a0a0"/>
<polygon points="158.40,434.78 162.60,434.78 160.50,431.21" fill="#a0a0a0"/>
<polygon points="166.80,420.48 171.00,420.48 168.90,416.91" fill="#a0a0a0"/>
<polygon points="175.40,412.10 179.40,412.10 177.40,408.70" fill="#c8c8c8"/>
<polyline points="46.90,500.50 55.40,497.20 70.00,504.60 79.20,504.30 90.80,505.40 98.90,505.80 110.50,505.80 119.50,505.80 131.25,505.90 140.00,505.90 151.25,505.90 160.00,505.90 169.25,505.90 178.00,505.90 189.50,505.90 198.00,505.90 209.50,505.90 218.25,505.90 230.00,505.90 238.75,505.90 245.00,505.60" fill="none" stroke="#999" stroke-width="1" stroke-linejoin="round"/>
<circle cx="46.90" cy="500.50" r="1.7" fill="#fff" stroke="#888" stroke-width="0.8"/>
<circle cx="55.40" cy="497.20" r="1.7" fill="#fff" stroke="#888" stroke-width="0.8"/>
<circle cx="70.00" cy="504.60" r="1.7" fill="#fff" stroke="#888" stroke-width="0.8"/>
<circle cx="79.20" cy="504.30" r="1.7" fill="#fff" stroke="#888" stroke-width="0.8"/>
<circle cx="90.80" cy="505.40" r="1.7" fill="#fff" stroke="#888" stroke-width="0.8"/>
<circle cx="98.90" cy="505.80" r="1.7" fill="#fff" stroke="#888" stroke-width="0.8"/>
<circle cx="110.50" cy="505.80" r="1.7" fill="#fff" stroke="#888" stroke-width="0.8"/>
<circle cx="119.50" cy="505.80" r="1.7" fill="#fff" stroke="#888" stroke-width="0.8"/>
<circle cx="131.25" cy="505.90" r="1.7" fill="#fff" stroke="#888" stroke-width="0.8"/>
<circle cx="140.00" cy="505.90" r="1.7" fill="#fff" stroke="#888" stroke-width="0.8"/>
<circle cx="151.25" cy="505.90" r="1.7" fill="#fff" stroke="#888" stroke-width="0.8"/>
<circle cx="160.00" cy="505.90" r="1.7" fill="#fff" stroke="#888" stroke-width="0.8"/>
<circle cx="169.25" cy="505.90" r="1.7" fill="#fff" stroke="#888" stroke-width="0.8"/>
<circle cx="178.00" cy="505.90" r="1.7" fill="#fff" stroke="#888" stroke-width="0.8"/>
<circle cx="189.50" cy="505.90" r="1.7" fill="#fff" stroke="#888" stroke-width="0.8"/>
<circle cx="198.00" cy="505.90" r="1.7" fill="#fff" stroke="#888" stroke-width="0.8"/>
<circle cx="209.50" cy="505.90" r="1.7" fill="#fff" stroke="#888" stroke-width="0.8"/>
<circle cx="218.25" cy="505.90" r="1.7" fill="#fff" stroke="#888" stroke-width="0.8"/>
<circle cx="230.00" cy="505.90" r="1.7" fill="#fff" stroke="#888" stroke-width="0.8"/>
<circle cx="238.75" cy="505.90" r="1.7" fill="#fff" stroke="#888" stroke-width="0.8"/>
<polygon points="243.30,506.76 246.70,506.76 245.00,503.87" fill="#bbb"/>
<line x1="79.20" y1="488.00" x2="79.20" y2="496.00" stroke="#222" stroke-width="0.8"/>
<line x1="77.40" y1="488.00" x2="81.00" y2="488.00" stroke="#222" stroke-width="0.8"/>
<line x1="77.40" y1="496.00" x2="81.00" y2="496.00" stroke="#222" stroke-width="0.8"/>
<line x1="90.80" y1="481.50" x2="90.80" y2="490.00" stroke="#222" stroke-width="0.8"/>
<line x1="89.00" y1="481.50" x2="92.60" y2="481.50" stroke="#222" stroke-width="0.8"/>
<line x1="89.00" y1="490.00" x2="92.60" y2="490.00" stroke="#222" stroke-width="0.8"/>
<line x1="98.90" y1="476.50" x2="98.90" y2="486.00" stroke="#222" stroke-width="0.8"/>
<line x1="97.10" y1="476.50" x2="100.70" y2="476.50" stroke="#222" stroke-width="0.8"/>
<line x1="97.10" y1="486.00" x2="100.70" y2="486.00" stroke="#222" stroke-width="0.8"/>
<line x1="110.50" y1="460.00" x2="110.50" y2="473.00" stroke="#222" stroke-width="0.8"/>
<line x1="108.70" y1="460.00" x2="112.30" y2="460.00" stroke="#222" stroke-width="0.8"/>
<line x1="108.70" y1="473.00" x2="112.30" y2="473.00" stroke="#222" stroke-width="0.8"/>
<line x1="119.50" y1="457.70" x2="119.50" y2="468.50" stroke="#222" stroke-width="0.8"/>
<line x1="117.70" y1="457.70" x2="121.30" y2="457.70" stroke="#222" stroke-width="0.8"/>
<line x1="117.70" y1="468.50" x2="121.30" y2="468.50" stroke="#222" stroke-width="0.8"/>
<line x1="131.20" y1="449.20" x2="131.20" y2="463.10" stroke="#222" stroke-width="0.8"/>
<line x1="129.40" y1="449.20" x2="133.00" y2="449.20" stroke="#222" stroke-width="0.8"/>
<line x1="129.40" y1="463.10" x2="133.00" y2="463.10" stroke="#222" stroke-width="0.8"/>
<line x1="139.70" y1="440.30" x2="139.70" y2="453.80" stroke="#222" stroke-width="0.8"/>
<line x1="137.90" y1="440.30" x2="141.50" y2="440.30" stroke="#222" stroke-width="0.8"/>
<line x1="137.90" y1="453.80" x2="141.50" y2="453.80" stroke="#222" stroke-width="0.8"/>
<line x1="151.20" y1="423.40" x2="151.20" y2="440.30" stroke="#222" stroke-width="0.8"/>
<line x1="149.40" y1="423.40" x2="153.00" y2="423.40" stroke="#222" stroke-width="0.8"/>
<line x1="149.40" y1="440.30" x2="153.00" y2="440.30" stroke="#222" stroke-width="0.8"/>
<line x1="160.50" y1="418.80" x2="160.50" y2="435.40" stroke="#222" stroke-width="0.8"/>
<line x1="158.70" y1="418.80" x2="162.30" y2="418.80" stroke="#222" stroke-width="0.8"/>
<line x1="158.70" y1="435.40" x2="162.30" y2="435.40" stroke="#222" stroke-width="0.8"/>
<polyline points="46.90,500.50 55.40,497.20 70.00,497.40 79.20,492.30 90.80,485.80 98.90,481.20 110.50,466.90 119.50,463.10 131.20,456.20 139.70,447.40 151.20,431.50 160.50,426.90 168.90,418.80" fill="none" stroke="#111" stroke-width="1.2" stroke-linejoin="round"/>
<circle cx="46.90" cy="500.50" r="1.9" fill="#111"/>
<circle cx="55.40" cy="497.20" r="1.9" fill="#111"/>
<circle cx="70.00" cy="497.40" r="1.9" fill="#111"/>
<circle cx="79.20" cy="492.30" r="1.9" fill="#111"/>
<circle cx="90.80" cy="485.80" r="1.9" fill="#111"/>
<circle cx="98.90" cy="481.20" r="1.9" fill="#111"/>
<circle cx="110.50" cy="466.90" r="1.9" fill="#111"/>
<circle cx="119.50" cy="463.10" r="1.9" fill="#111"/>
<circle cx="131.20" cy="456.20" r="1.9" fill="#111"/>
<circle cx="139.70" cy="447.40" r="1.9" fill="#111"/>
<circle cx="151.20" cy="431.50" r="1.9" fill="#111"/>
<circle cx="160.50" cy="426.90" r="1.9" fill="#111"/>
<circle cx="168.90" cy="418.80" r="1.9" fill="#111"/>
<line x1="165.40" y1="463.80" x2="176.20" y2="463.80" stroke="#111" stroke-width="1.2"/>
<circle cx="170.60" cy="463.80" r="1.9" fill="#111"/>
<line x1="165.40" y1="473.60" x2="176.20" y2="473.60" stroke="#999" stroke-width="1"/>
<circle cx="170.60" cy="473.60" r="1.7" fill="#fff" stroke="#888" stroke-width="0.8"/>
<line x1="165.40" y1="484.40" x2="176.20" y2="484.40" stroke="#a8a8a8" stroke-width="1"/>
<polygon points="168.80,485.84 172.40,485.84 170.60,482.78" fill="#a8a8a8"/>
<text x="179.20" y="466.30" font-size="6.6" text-anchor="start" font-weight="normal" font-style="normal" fill="#1a1a1a">Untreated control</text>
<text x="179.20" y="476.20" font-size="6.6" text-anchor="start" font-weight="normal" font-style="normal" fill="#1a1a1a">8 × 10<tspan dy="-2.6" font-size="4.5">6</tspan><tspan dy="2.6"> CTX130</tspan></text>
<text x="179.20" y="487.10" font-size="6.6" text-anchor="start" font-weight="normal" font-style="normal" fill="#1a1a1a">7.5 × 10<tspan dy="-2.6" font-size="4.5">6</tspan><tspan dy="2.6"> CD70</tspan><tspan dy="-2.6" font-size="4.5">+</tspan></text>
<text x="179.20" y="495.00" font-size="6.6" text-anchor="start" font-weight="normal" font-style="normal" fill="#1a1a1a">Anti-CD70 CAR T</text>
<text x="261.00" y="381.00" font-size="10.5" text-anchor="start" font-weight="bold" font-style="normal" fill="#000" stroke="#000" stroke-width="0.15">E</text>
<line x1="301.30" y1="416.50" x2="301.30" y2="548.00" stroke="#666666" stroke-width="1"/>
<line x1="301.30" y1="548.00" x2="516.00" y2="548.00" stroke="#666666" stroke-width="1"/>
<line x1="298.10" y1="548.00" x2="301.30" y2="548.00" stroke="#666666" stroke-width="1"/>
<text x="296.10" y="550.80" font-size="8.6" text-anchor="end" font-weight="normal" font-style="normal" fill="#1a1a1a" stroke="#1a1a1a" stroke-width="0.15">0</text>
<line x1="298.10" y1="521.70" x2="301.30" y2="521.70" stroke="#666666" stroke-width="1"/>
<text x="296.10" y="524.50" font-size="8.6" text-anchor="end" font-weight="normal" font-style="normal" fill="#1a1a1a" stroke="#1a1a1a" stroke-width="0.15">500</text>
<line x1="298.10" y1="495.40" x2="301.30" y2="495.40" stroke="#666666" stroke-width="1"/>
<text x="296.10" y="498.20" font-size="8.6" text-anchor="end" font-weight="normal" font-style="normal" fill="#1a1a1a" stroke="#1a1a1a" stroke-width="0.15">1,000</text>
<line x1="298.10" y1="469.10" x2="301.30" y2="469.10" stroke="#666666" stroke-width="1"/>
<text x="296.10" y="471.90" font-size="8.6" text-anchor="end" font-weight="normal" font-style="normal" fill="#1a1a1a" stroke="#1a1a1a" stroke-width="0.15">1,500</text>
<line x1="298.10" y1="442.80" x2="301.30" y2="442.80" stroke="#666666" stroke-width="1"/>
<text x="296.10" y="445.60" font-size="8.6" text-anchor="end" font-weight="normal" font-style="normal" fill="#1a1a1a" stroke="#1a1a1a" stroke-width="0.15">2,000</text>
<line x1="298.10" y1="416.50" x2="301.30" y2="416.50" stroke="#666666" stroke-width="1"/>
<text x="296.10" y="419.30" font-size="8.6" text-anchor="end" font-weight="normal" font-style="normal" fill="#1a1a1a" stroke="#1a1a1a" stroke-width="0.15">2,500</text>
<line x1="301.30" y1="548.00" x2="301.30" y2="551.00" stroke="#666666" stroke-width="1"/>
<text x="301.30" y="560.00" font-size="8.6" text-anchor="middle" font-weight="normal" font-style="normal" fill="#1a1a1a" stroke="#1a1a1a" stroke-width="0.15">0</text>
<line x1="320.05" y1="548.00" x2="320.05" y2="551.00" stroke="#666666" stroke-width="1"/>
<text x="320.05" y="560.00" font-size="8.6" text-anchor="middle" font-weight="normal" font-style="normal" fill="#1a1a1a" stroke="#1a1a1a" stroke-width="0.15">10</text>
<line x1="338.80" y1="548.00" x2="338.80" y2="551.00" stroke="#666666" stroke-width="1"/>
<text x="338.80" y="560.00" font-size="8.6" text-anchor="middle" font-weight="normal" font-style="normal" fill="#1a1a1a" stroke="#1a1a1a" stroke-width="0.15">20</text>
<line x1="357.55" y1="548.00" x2="357.55" y2="551.00" stroke="#666666" stroke-width="1"/>
<text x="357.55" y="560.00" font-size="8.6" text-anchor="middle" font-weight="normal" font-style="normal" fill="#1a1a1a" stroke="#1a1a1a" stroke-width="0.15">30</text>
<line x1="376.30" y1="548.00" x2="376.30" y2="551.00" stroke="#666666" stroke-width="1"/>
<text x="376.30" y="560.00" font-size="8.6" text-anchor="middle" font-weight="normal" font-style="normal" fill="#1a1a1a" stroke="#1a1a1a" stroke-width="0.15">40</text>
<line x1="395.05" y1="548.00" x2="395.05" y2="551.00" stroke="#666666" stroke-width="1"/>
<text x="395.05" y="560.00" font-size="8.6" text-anchor="middle" font-weight="normal" font-style="normal" fill="#1a1a1a" stroke="#1a1a1a" stroke-width="0.15">50</text>
<line x1="413.80" y1="548.00" x2="413.80" y2="551.00" stroke="#666666" stroke-width="1"/>
<text x="413.80" y="560.00" font-size="8.6" text-anchor="middle" font-weight="normal" font-style="normal" fill="#1a1a1a" stroke="#1a1a1a" stroke-width="0.15">60</text>
<line x1="432.55" y1="548.00" x2="432.55" y2="551.00" stroke="#666666" stroke-width="1"/>
<text x="432.55" y="560.00" font-size="8.6" text-anchor="middle" font-weight="normal" font-style="normal" fill="#1a1a1a" stroke="#1a1a1a" stroke-width="0.15">70</text>
<line x1="451.30" y1="548.00" x2="451.30" y2="551.00" stroke="#666666" stroke-width="1"/>
<text x="451.30" y="560.00" font-size="8.6" text-anchor="middle" font-weight="normal" font-style="normal" fill="#1a1a1a" stroke="#1a1a1a" stroke-width="0.15">80</text>
<line x1="470.05" y1="548.00" x2="470.05" y2="551.00" stroke="#666666" stroke-width="1"/>
<text x="470.05" y="560.00" font-size="8.6" text-anchor="middle" font-weight="normal" font-style="normal" fill="#1a1a1a" stroke="#1a1a1a" stroke-width="0.15">90</text>
<line x1="488.80" y1="548.00" x2="488.80" y2="551.00" stroke="#666666" stroke-width="1"/>
<text x="488.80" y="560.00" font-size="8.6" text-anchor="middle" font-weight="normal" font-style="normal" fill="#1a1a1a" stroke="#1a1a1a" stroke-width="0.15">100</text>
<line x1="507.55" y1="548.00" x2="507.55" y2="551.00" stroke="#666666" stroke-width="1"/>
<text x="507.55" y="560.00" font-size="8.6" text-anchor="middle" font-weight="normal" font-style="normal" fill="#1a1a1a" stroke="#1a1a1a" stroke-width="0.15">110</text>
<text x="405.80" y="576.60" font-size="8.6" text-anchor="middle" font-weight="normal" font-style="normal" fill="#1a1a1a" stroke="#1a1a1a" stroke-width="0.15">Day</text>
<text x="268.50" y="483.50" font-size="8.6" text-anchor="middle" font-weight="normal" font-style="normal" fill="#1a1a1a" stroke="#1a1a1a" stroke-width="0.15" transform="rotate(-90 268.5 483.5)">Tumor volume (mm<tspan dy="-3.3" font-size="6.2">3</tspan><tspan dy="3.3">)</tspan></text>
<line x1="337.00" y1="518.50" x2="337.00" y2="527.70" stroke="#222" stroke-width="0.8"/>
<line x1="335.50" y1="518.50" x2="338.50" y2="518.50" stroke="#222" stroke-width="0.8"/>
<line x1="335.50" y1="527.70" x2="338.50" y2="527.70" stroke="#222" stroke-width="0.8"/>
<line x1="343.00" y1="500.00" x2="343.00" y2="518.50" stroke="#222" stroke-width="0.8"/>
<line x1="341.50" y1="500.00" x2="344.50" y2="500.00" stroke="#222" stroke-width="0.8"/>
<line x1="341.50" y1="518.50" x2="344.50" y2="518.50" stroke="#222" stroke-width="0.8"/>
<line x1="348.40" y1="490.00" x2="348.40" y2="509.00" stroke="#222" stroke-width="0.8"/>
<line x1="346.90" y1="490.00" x2="349.90" y2="490.00" stroke="#222" stroke-width="0.8"/>
<line x1="346.90" y1="509.00" x2="349.90" y2="509.00" stroke="#222" stroke-width="0.8"/>
<line x1="354.20" y1="476.00" x2="354.20" y2="503.00" stroke="#222" stroke-width="0.8"/>
<line x1="352.70" y1="476.00" x2="355.70" y2="476.00" stroke="#222" stroke-width="0.8"/>
<line x1="352.70" y1="503.00" x2="355.70" y2="503.00" stroke="#222" stroke-width="0.8"/>
<line x1="361.30" y1="467.30" x2="361.30" y2="488.00" stroke="#222" stroke-width="0.8"/>
<line x1="359.80" y1="467.30" x2="362.80" y2="467.30" stroke="#222" stroke-width="0.8"/>
<line x1="359.80" y1="488.00" x2="362.80" y2="488.00" stroke="#222" stroke-width="0.8"/>
<line x1="367.10" y1="449.00" x2="367.10" y2="477.90" stroke="#222" stroke-width="0.8"/>
<line x1="365.60" y1="449.00" x2="368.60" y2="449.00" stroke="#222" stroke-width="0.8"/>
<line x1="365.60" y1="477.90" x2="368.60" y2="477.90" stroke="#222" stroke-width="0.8"/>
<line x1="376.70" y1="452.90" x2="376.70" y2="465.40" stroke="#222" stroke-width="0.8"/>
<line x1="375.20" y1="452.90" x2="378.20" y2="452.90" stroke="#222" stroke-width="0.8"/>
<line x1="375.20" y1="465.40" x2="378.20" y2="465.40" stroke="#222" stroke-width="0.8"/>
<line x1="380.20" y1="434.20" x2="380.20" y2="449.00" stroke="#222" stroke-width="0.8"/>
<line x1="378.70" y1="434.20" x2="381.70" y2="434.20" stroke="#222" stroke-width="0.8"/>
<line x1="378.70" y1="449.00" x2="381.70" y2="449.00" stroke="#222" stroke-width="0.8"/>
<line x1="388.10" y1="426.90" x2="388.10" y2="445.20" stroke="#222" stroke-width="0.8"/>
<line x1="386.60" y1="426.90" x2="389.60" y2="426.90" stroke="#222" stroke-width="0.8"/>
<line x1="386.60" y1="445.20" x2="389.60" y2="445.20" stroke="#222" stroke-width="0.8"/>
<polyline points="303.00,545.70 310.40,543.80 316.50,542.30 323.80,540.00 329.60,534.30 337.00,523.40 343.00,508.80 348.40,498.80 354.20,490.50 361.30,477.90 367.10,463.50 376.70,459.60 380.20,441.30 388.10,436.20 393.80,409.80" fill="none" stroke="#222" stroke-width="0.8" stroke-linejoin="round"/>
<circle cx="303.00" cy="545.70" r="2.2" fill="#fff" stroke="#111" stroke-width="0.85"/>
<polygon points="303,544.4000000000001 304.3,545.7 303,547.0 301.7,545.7" fill="#fff" stroke="#222" stroke-width="0.5"/>
<circle cx="310.40" cy="543.80" r="2.2" fill="#fff" stroke="#111" stroke-width="0.85"/>
<polygon points="310.4,542.5 311.7,543.8 310.4,545.0999999999999 309.09999999999997,543.8" fill="#fff" stroke="#222" stroke-width="0.5"/>
<circle cx="316.50" cy="542.30" r="2.2" fill="#fff" stroke="#111" stroke-width="0.85"/>
<polygon points="316.5,541.0 317.8,542.3 316.5,543.5999999999999 315.2,542.3" fill="#fff" stroke="#222" stroke-width="0.5"/>
<circle cx="323.80" cy="540.00" r="2.2" fill="#fff" stroke="#111" stroke-width="0.85"/>
<polygon points="323.8,538.7 325.1,540 323.8,541.3 322.5,540" fill="#fff" stroke="#222" stroke-width="0.5"/>
<circle cx="329.60" cy="534.30" r="2.2" fill="#fff" stroke="#111" stroke-width="0.85"/>
<polygon points="329.6,533.0 330.90000000000003,534.3 329.6,535.5999999999999 328.3,534.3" fill="#fff" stroke="#222" stroke-width="0.5"/>
<circle cx="337.00" cy="523.40" r="2.2" fill="#fff" stroke="#111" stroke-width="0.85"/>
<polygon points="337,522.1 338.3,523.4 337,524.6999999999999 335.7,523.4" fill="#fff" stroke="#222" stroke-width="0.5"/>
<circle cx="343.00" cy="508.80" r="2.2" fill="#fff" stroke="#111" stroke-width="0.85"/>
<polygon points="343,507.5 344.3,508.8 343,510.1 341.7,508.8" fill="#fff" stroke="#222" stroke-width="0.5"/>
<circle cx="348.40" cy="498.80" r="2.2" fill="#fff" stroke="#111" stroke-width="0.85"/>
<polygon points="348.4,497.5 349.7,498.8 348.4,500.1 347.09999999999997,498.8" fill="#fff" stroke="#222" stroke-width="0.5"/>
<circle cx="354.20" cy="490.50" r="2.2" fill="#fff" stroke="#111" stroke-width="0.85"/>
<polygon points="354.2,489.2 355.5,490.5 354.2,491.8 352.9,490.5" fill="#fff" stroke="#222" stroke-width="0.5"/>
<circle cx="361.30" cy="477.90" r="2.2" fill="#fff" stroke="#111" stroke-width="0.85"/>
<polygon points="361.3,476.59999999999997 362.6,477.9 361.3,479.2 360.0,477.9" fill="#fff" stroke="#222" stroke-width="0.5"/>
<circle cx="367.10" cy="463.50" r="2.2" fill="#fff" stroke="#111" stroke-width="0.85"/>
<polygon points="367.1,462.2 368.40000000000003,463.5 367.1,464.8 365.8,463.5" fill="#fff" stroke="#222" stroke-width="0.5"/>
<circle cx="376.70" cy="459.60" r="2.2" fill="#fff" stroke="#111" stroke-width="0.85"/>
<polygon points="376.7,458.3 378.0,459.6 376.7,460.90000000000003 375.4,459.6" fill="#fff" stroke="#222" stroke-width="0.5"/>
<circle cx="380.20" cy="441.30" r="2.2" fill="#fff" stroke="#111" stroke-width="0.85"/>
<polygon points="380.2,440.0 381.5,441.3 380.2,442.6 378.9,441.3" fill="#fff" stroke="#222" stroke-width="0.5"/>
<circle cx="388.10" cy="436.20" r="2.2" fill="#fff" stroke="#111" stroke-width="0.85"/>
<polygon points="388.1,434.9 389.40000000000003,436.2 388.1,437.5 386.8,436.2" fill="#fff" stroke="#222" stroke-width="0.5"/>
<line x1="427.68" y1="529.59" x2="427.68" y2="533.80" stroke="#222" stroke-width="0.8"/>
<line x1="426.18" y1="529.59" x2="429.18" y2="529.59" stroke="#222" stroke-width="0.8"/>
<line x1="426.18" y1="533.80" x2="429.18" y2="533.80" stroke="#222" stroke-width="0.8"/>
<line x1="433.86" y1="522.75" x2="433.86" y2="529.59" stroke="#222" stroke-width="0.8"/>
<line x1="432.36" y1="522.75" x2="435.36" y2="522.75" stroke="#222" stroke-width="0.8"/>
<line x1="432.36" y1="529.59" x2="435.36" y2="529.59" stroke="#222" stroke-width="0.8"/>
<line x1="439.68" y1="513.28" x2="439.68" y2="521.70" stroke="#222" stroke-width="0.8"/>
<line x1="438.18" y1="513.28" x2="441.18" y2="513.28" stroke="#222" stroke-width="0.8"/>
<line x1="438.18" y1="521.70" x2="441.18" y2="521.70" stroke="#222" stroke-width="0.8"/>
<line x1="446.61" y1="502.76" x2="446.61" y2="514.34" stroke="#222" stroke-width="0.8"/>
<line x1="445.11" y1="502.76" x2="448.11" y2="502.76" stroke="#222" stroke-width="0.8"/>
<line x1="445.11" y1="514.34" x2="448.11" y2="514.34" stroke="#222" stroke-width="0.8"/>
<line x1="453.93" y1="482.25" x2="453.93" y2="500.66" stroke="#222" stroke-width="0.8"/>
<line x1="452.43" y1="482.25" x2="455.43" y2="482.25" stroke="#222" stroke-width="0.8"/>
<line x1="452.43" y1="500.66" x2="455.43" y2="500.66" stroke="#222" stroke-width="0.8"/>
<line x1="459.55" y1="461.21" x2="459.55" y2="482.25" stroke="#222" stroke-width="0.8"/>
<line x1="458.05" y1="461.21" x2="461.05" y2="461.21" stroke="#222" stroke-width="0.8"/>
<line x1="458.05" y1="482.25" x2="461.05" y2="482.25" stroke="#222" stroke-width="0.8"/>
<line x1="467.24" y1="454.37" x2="467.24" y2="475.94" stroke="#222" stroke-width="0.8"/>
<line x1="465.74" y1="454.37" x2="468.74" y2="454.37" stroke="#222" stroke-width="0.8"/>
<line x1="465.74" y1="475.94" x2="468.74" y2="475.94" stroke="#222" stroke-width="0.8"/>
<line x1="472.68" y1="434.91" x2="472.68" y2="458.58" stroke="#222" stroke-width="0.8"/>
<line x1="471.18" y1="434.91" x2="474.18" y2="434.91" stroke="#222" stroke-width="0.8"/>
<line x1="471.18" y1="458.58" x2="474.18" y2="458.58" stroke="#222" stroke-width="0.8"/>
<polyline points="348.18,545.63 354.36,545.79 362.24,545.79 368.80,546.16 378.55,546.16 387.18,545.79 393.93,545.21 401.24,543.79 407.43,542.74 414.18,541.32 420.55,538.53 427.68,531.69 433.86,526.01 439.68,517.28 446.61,508.81 453.93,491.51 459.55,471.73 467.24,465.68 472.68,447.01 480.36,491.72 486.18,485.93 493.49,465.94 499.30,441.75" fill="none" stroke="#222" stroke-width="0.8" stroke-linejoin="round"/>
<polygon points="348.175,543.433 350.375,545.633 348.175,547.8330000000001 345.975,545.633" fill="#fff" stroke="#111" stroke-width="0.85"/>
<polygon points="354.3625,543.5908 356.5625,545.7908 354.3625,547.9908 352.1625,545.7908" fill="#fff" stroke="#111" stroke-width="0.85"/>
<polygon points="362.2375,543.5908 364.4375,545.7908 362.2375,547.9908 360.0375,545.7908" fill="#fff" stroke="#111" stroke-width="0.85"/>
<polygon points="368.8,543.959 371.0,546.159 368.8,548.359 366.6,546.159" fill="#fff" stroke="#111" stroke-width="0.85"/>
<polygon points="378.55,543.959 380.75,546.159 378.55,548.359 376.35,546.159" fill="#fff" stroke="#111" stroke-width="0.85"/>
<polygon points="387.175,543.5908 389.375,545.7908 387.175,547.9908 384.975,545.7908" fill="#fff" stroke="#111" stroke-width="0.85"/>
<polygon points="393.925,543.0122 396.125,545.2122 393.925,547.4122000000001 391.725,545.2122" fill="#fff" stroke="#111" stroke-width="0.85"/>
<polygon points="401.2375,541.592 403.4375,543.792 401.2375,545.9920000000001 399.0375,543.792" fill="#fff" stroke="#111" stroke-width="0.85"/>
<polygon points="407.425,540.54 409.625,542.74 407.425,544.94 405.225,542.74" fill="#fff" stroke="#111" stroke-width="0.85"/>
<polygon points="414.175,539.1197999999999 416.375,541.3198 414.175,543.5198 411.975,541.3198" fill="#fff" stroke="#111" stroke-width="0.85"/>
<polygon points="420.55,536.332 422.75,538.532 420.55,540.7320000000001 418.35,538.532" fill="#fff" stroke="#111" stroke-width="0.85"/>
<polygon points="427.675,529.4939999999999 429.875,531.694 427.675,533.894 425.475,531.694" fill="#fff" stroke="#111" stroke-width="0.85"/>
<polygon points="433.8625,523.8131999999999 436.0625,526.0132 433.8625,528.2132 431.6625,526.0132" fill="#fff" stroke="#111" stroke-width="0.85"/>
<polygon points="439.675,515.0816 441.875,517.2816 439.675,519.4816000000001 437.475,517.2816" fill="#fff" stroke="#111" stroke-width="0.85"/>
<polygon points="446.6125,506.613 448.8125,508.813 446.6125,511.013 444.4125,508.813" fill="#fff" stroke="#111" stroke-width="0.85"/>
<polygon points="453.925,489.30760000000004 456.125,491.5076 453.925,493.7076 451.725,491.5076" fill="#fff" stroke="#111" stroke-width="0.85"/>
<polygon points="459.55,469.53000000000003 461.75,471.73 459.55,473.93 457.35,471.73" fill="#fff" stroke="#111" stroke-width="0.85"/>
<polygon points="467.2375,463.481 469.4375,465.681 467.2375,467.881 465.0375,465.681" fill="#fff" stroke="#111" stroke-width="0.85"/>
<polygon points="472.675,444.808 474.875,447.008 472.675,449.20799999999997 470.475,447.008" fill="#fff" stroke="#111" stroke-width="0.85"/>
<polygon points="480.3625,489.51800000000003 482.5625,491.718 480.3625,493.918 478.1625,491.718" fill="#fff" stroke="#111" stroke-width="0.85"/>
<polygon points="486.175,483.732 488.375,485.932 486.175,488.132 483.975,485.932" fill="#fff" stroke="#111" stroke-width="0.85"/>
<polygon points="493.4875,463.744 495.6875,465.944 493.4875,468.144 491.2875,465.944" fill="#fff" stroke="#111" stroke-width="0.85"/>
<polygon points="499.3,439.548 501.5,441.748 499.3,443.948 497.1,441.748" fill="#fff" stroke="#111" stroke-width="0.85"/>
<polyline points="303.18,545.11 310.68,544.05 316.30,546.16 323.80,547.79 329.43,547.79 336.93,547.79 342.55,547.79 348.18,547.79 353.80,547.79 361.30,547.79 366.93,547.79 374.43,547.79 380.05,547.79 387.55,547.79 393.18,547.79 400.68,547.79 406.30,547.79 413.80,547.79 419.43,547.79 426.93,547.79 432.55,547.79 440.05,547.79 446.61,547.79 453.18,547.79 460.49,547.79 466.86,547.79 473.43,547.79 479.99,547.79 485.61,547.79 493.68,547.79 499.30,547.79 508.49,547.79 514.49,547.79" fill="none" stroke="#b0306a" stroke-width="0.9" stroke-linejoin="round"/>
<polyline points="303.18,545.37 310.68,544.32 316.30,545.63 323.80,547.79 329.43,547.79 336.93,547.79 342.55,547.79 348.18,547.79 353.80,547.79 361.30,547.79 366.93,547.79 374.43,547.79 380.05,547.79 387.55,547.79 393.18,547.79 400.68,547.79 406.30,547.79 413.80,547.79 419.43,547.79 426.93,547.79 432.55,547.79 440.05,547.79 446.61,547.79 453.18,547.79 460.49,547.79 466.86,547.79 473.43,547.79 479.99,547.79 485.61,547.79 493.68,547.79 499.30,547.79 508.49,547.79 514.49,547.79" fill="none" stroke="#2e2e9a" stroke-width="0.8" stroke-linejoin="round"/>
<rect x="301.28" y="543.31" width="3.8" height="3.6" rx="1.1" fill="#fff" stroke="#8a3f8e" stroke-width="0.9"/>
<rect x="308.78" y="542.25" width="3.8" height="3.6" rx="1.1" fill="#fff" stroke="#8a3f8e" stroke-width="0.9"/>
<rect x="314.40" y="544.36" width="3.8" height="3.6" rx="1.1" fill="#fff" stroke="#8a3f8e" stroke-width="0.9"/>
<rect x="321.90" y="545.99" width="3.8" height="3.6" rx="1.1" fill="#fff" stroke="#8a3f8e" stroke-width="0.9"/>
<rect x="327.53" y="545.99" width="3.8" height="3.6" rx="1.1" fill="#fff" stroke="#8a3f8e" stroke-width="0.9"/>
<rect x="335.03" y="545.99" width="3.8" height="3.6" rx="1.1" fill="#fff" stroke="#8a3f8e" stroke-width="0.9"/>
<rect x="340.65" y="545.99" width="3.8" height="3.6" rx="1.1" fill="#fff" stroke="#8a3f8e" stroke-width="0.9"/>
<rect x="346.28" y="545.99" width="3.8" height="3.6" rx="1.1" fill="#fff" stroke="#8a3f8e" stroke-width="0.9"/>
<rect x="351.90" y="545.99" width="3.8" height="3.6" rx="1.1" fill="#fff" stroke="#8a3f8e" stroke-width="0.9"/>
<rect x="359.40" y="545.99" width="3.8" height="3.6" rx="1.1" fill="#fff" stroke="#8a3f8e" stroke-width="0.9"/>
<rect x="365.03" y="545.99" width="3.8" height="3.6" rx="1.1" fill="#fff" stroke="#8a3f8e" stroke-width="0.9"/>
<rect x="372.53" y="545.99" width="3.8" height="3.6" rx="1.1" fill="#fff" stroke="#8a3f8e" stroke-width="0.9"/>
<rect x="378.15" y="545.99" width="3.8" height="3.6" rx="1.1" fill="#fff" stroke="#8a3f8e" stroke-width="0.9"/>
<rect x="385.65" y="545.99" width="3.8" height="3.6" rx="1.1" fill="#fff" stroke="#8a3f8e" stroke-width="0.9"/>
<rect x="391.28" y="545.99" width="3.8" height="3.6" rx="1.1" fill="#fff" stroke="#8a3f8e" stroke-width="0.9"/>
<rect x="398.78" y="545.99" width="3.8" height="3.6" rx="1.1" fill="#fff" stroke="#8a3f8e" stroke-width="0.9"/>
<rect x="404.40" y="545.99" width="3.8" height="3.6" rx="1.1" fill="#fff" stroke="#8a3f8e" stroke-width="0.9"/>
<rect x="411.90" y="545.99" width="3.8" height="3.6" rx="1.1" fill="#fff" stroke="#8a3f8e" stroke-width="0.9"/>
<rect x="417.53" y="545.99" width="3.8" height="3.6" rx="1.1" fill="#fff" stroke="#8a3f8e" stroke-width="0.9"/>
<rect x="425.03" y="545.99" width="3.8" height="3.6" rx="1.1" fill="#fff" stroke="#8a3f8e" stroke-width="0.9"/>
<rect x="430.65" y="545.99" width="3.8" height="3.6" rx="1.1" fill="#fff" stroke="#8a3f8e" stroke-width="0.9"/>
<rect x="438.15" y="545.99" width="3.8" height="3.6" rx="1.1" fill="#fff" stroke="#8a3f8e" stroke-width="0.9"/>
<rect x="444.71" y="545.99" width="3.8" height="3.6" rx="1.1" fill="#fff" stroke="#8a3f8e" stroke-width="0.9"/>
<rect x="451.28" y="545.99" width="3.8" height="3.6" rx="1.1" fill="#fff" stroke="#8a3f8e" stroke-width="0.9"/>
<rect x="458.59" y="545.99" width="3.8" height="3.6" rx="1.1" fill="#fff" stroke="#8a3f8e" stroke-width="0.9"/>
<rect x="464.96" y="545.99" width="3.8" height="3.6" rx="1.1" fill="#fff" stroke="#8a3f8e" stroke-width="0.9"/>
<rect x="471.53" y="545.99" width="3.8" height="3.6" rx="1.1" fill="#fff" stroke="#8a3f8e" stroke-width="0.9"/>
<rect x="478.09" y="545.99" width="3.8" height="3.6" rx="1.1" fill="#fff" stroke="#8a3f8e" stroke-width="0.9"/>
<rect x="483.71" y="545.99" width="3.8" height="3.6" rx="1.1" fill="#fff" stroke="#8a3f8e" stroke-width="0.9"/>
<rect x="491.78" y="545.99" width="3.8" height="3.6" rx="1.1" fill="#fff" stroke="#8a3f8e" stroke-width="0.9"/>
<rect x="497.40" y="545.99" width="3.8" height="3.6" rx="1.1" fill="#fff" stroke="#8a3f8e" stroke-width="0.9"/>
<rect x="506.59" y="545.99" width="3.8" height="3.6" rx="1.1" fill="#fff" stroke="#8a3f8e" stroke-width="0.9"/>
<rect x="512.59" y="545.99" width="3.8" height="3.6" rx="1.1" fill="#fff" stroke="#8a3f8e" stroke-width="0.9"/>
<polygon points="301.18,546.97 305.18,546.97 303.18,543.27" fill="none" stroke="#2e2e9a" stroke-width="1"/>
<polygon points="308.68,545.92 312.68,545.92 310.68,542.22" fill="none" stroke="#2e2e9a" stroke-width="1"/>
<polygon points="314.30,547.23 318.30,547.23 316.30,543.53" fill="none" stroke="#2e2e9a" stroke-width="1"/>
<polygon points="321.80,549.39 325.80,549.39 323.80,545.69" fill="none" stroke="#2e2e9a" stroke-width="1"/>
<polygon points="327.43,549.39 331.43,549.39 329.43,545.69" fill="none" stroke="#2e2e9a" stroke-width="1"/>
<polygon points="334.93,549.39 338.93,549.39 336.93,545.69" fill="none" stroke="#2e2e9a" stroke-width="1"/>
<polygon points="340.55,549.39 344.55,549.39 342.55,545.69" fill="none" stroke="#2e2e9a" stroke-width="1"/>
<polygon points="346.18,549.39 350.18,549.39 348.18,545.69" fill="none" stroke="#2e2e9a" stroke-width="1"/>
<polygon points="351.80,549.39 355.80,549.39 353.80,545.69" fill="none" stroke="#2e2e9a" stroke-width="1"/>
<polygon points="359.30,549.39 363.30,549.39 361.30,545.69" fill="none" stroke="#2e2e9a" stroke-width="1"/>
<polygon points="364.93,549.39 368.93,549.39 366.93,545.69" fill="none" stroke="#2e2e9a" stroke-width="1"/>
<polygon points="372.43,549.39 376.43,549.39 374.43,545.69" fill="none" stroke="#2e2e9a" stroke-width="1"/>
<polygon points="378.05,549.39 382.05,549.39 380.05,545.69" fill="none" stroke="#2e2e9a" stroke-width="1"/>
<polygon points="385.55,549.39 389.55,549.39 387.55,545.69" fill="none" stroke="#2e2e9a" stroke-width="1"/>
<polygon points="391.18,549.39 395.18,549.39 393.18,545.69" fill="none" stroke="#2e2e9a" stroke-width="1"/>
<polygon points="398.68,549.39 402.68,549.39 400.68,545.69" fill="none" stroke="#2e2e9a" stroke-width="1"/>
<polygon points="404.30,549.39 408.30,549.39 406.30,545.69" fill="none" stroke="#2e2e9a" stroke-width="1"/>
<polygon points="411.80,549.39 415.80,549.39 413.80,545.69" fill="none" stroke="#2e2e9a" stroke-width="1"/>
<polygon points="417.43,549.39 421.43,549.39 419.43,545.69" fill="none" stroke="#2e2e9a" stroke-width="1"/>
<polygon points="424.93,549.39 428.93,549.39 426.93,545.69" fill="none" stroke="#2e2e9a" stroke-width="1"/>
<polygon points="430.55,549.39 434.55,549.39 432.55,545.69" fill="none" stroke="#2e2e9a" stroke-width="1"/>
<polygon points="438.05,549.39 442.05,549.39 440.05,545.69" fill="none" stroke="#2e2e9a" stroke-width="1"/>
<polygon points="444.61,549.39 448.61,549.39 446.61,545.69" fill="none" stroke="#2e2e9a" stroke-width="1"/>
<polygon points="451.18,549.39 455.18,549.39 453.18,545.69" fill="none" stroke="#2e2e9a" stroke-width="1"/>
<polygon points="458.49,549.39 462.49,549.39 460.49,545.69" fill="none" stroke="#2e2e9a" stroke-width="1"/>
<polygon points="464.86,549.39 468.86,549.39 466.86,545.69" fill="none" stroke="#2e2e9a" stroke-width="1"/>
<polygon points="471.43,549.39 475.43,549.39 473.43,545.69" fill="none" stroke="#2e2e9a" stroke-width="1"/>
<polygon points="477.99,549.39 481.99,549.39 479.99,545.69" fill="none" stroke="#2e2e9a" stroke-width="1"/>
<polygon points="483.61,549.39 487.61,549.39 485.61,545.69" fill="none" stroke="#2e2e9a" stroke-width="1"/>
<polygon points="491.68,549.39 495.68,549.39 493.68,545.69" fill="none" stroke="#2e2e9a" stroke-width="1"/>
<polygon points="497.30,549.39 501.30,549.39 499.30,545.69" fill="none" stroke="#2e2e9a" stroke-width="1"/>
<polygon points="506.49,549.39 510.49,549.39 508.49,545.69" fill="none" stroke="#2e2e9a" stroke-width="1"/>
<polygon points="512.49,549.39 516.49,549.39 514.49,545.69" fill="none" stroke="#2e2e9a" stroke-width="1"/>
<line x1="453.18" y1="543.27" x2="453.18" y2="545.90" stroke="#f7882f" stroke-width="0.8"/>
<line x1="451.68" y1="543.27" x2="454.68" y2="543.27" stroke="#f7882f" stroke-width="0.8"/>
<line x1="451.68" y1="545.90" x2="454.68" y2="545.90" stroke="#f7882f" stroke-width="0.8"/>
<line x1="460.49" y1="540.64" x2="460.49" y2="544.32" stroke="#f7882f" stroke-width="0.8"/>
<line x1="458.99" y1="540.64" x2="461.99" y2="540.64" stroke="#f7882f" stroke-width="0.8"/>
<line x1="458.99" y1="544.32" x2="461.99" y2="544.32" stroke="#f7882f" stroke-width="0.8"/>
<line x1="466.86" y1="539.06" x2="466.86" y2="543.27" stroke="#f7882f" stroke-width="0.8"/>
<line x1="465.36" y1="539.06" x2="468.36" y2="539.06" stroke="#f7882f" stroke-width="0.8"/>
<line x1="465.36" y1="543.27" x2="468.36" y2="543.27" stroke="#f7882f" stroke-width="0.8"/>
<line x1="473.43" y1="536.95" x2="473.43" y2="542.74" stroke="#f7882f" stroke-width="0.8"/>
<line x1="471.93" y1="536.95" x2="474.93" y2="536.95" stroke="#f7882f" stroke-width="0.8"/>
<line x1="471.93" y1="542.74" x2="474.93" y2="542.74" stroke="#f7882f" stroke-width="0.8"/>
<line x1="479.99" y1="535.38" x2="479.99" y2="541.16" stroke="#f7882f" stroke-width="0.8"/>
<line x1="478.49" y1="535.38" x2="481.49" y2="535.38" stroke="#f7882f" stroke-width="0.8"/>
<line x1="478.49" y1="541.16" x2="481.49" y2="541.16" stroke="#f7882f" stroke-width="0.8"/>
<line x1="485.61" y1="530.12" x2="485.61" y2="539.06" stroke="#f7882f" stroke-width="0.8"/>
<line x1="484.11" y1="530.12" x2="487.11" y2="530.12" stroke="#f7882f" stroke-width="0.8"/>
<line x1="484.11" y1="539.06" x2="487.11" y2="539.06" stroke="#f7882f" stroke-width="0.8"/>
<line x1="493.68" y1="511.97" x2="493.68" y2="536.69" stroke="#f7882f" stroke-width="0.8"/>
<line x1="492.18" y1="511.97" x2="495.18" y2="511.97" stroke="#f7882f" stroke-width="0.8"/>
<line x1="492.18" y1="536.69" x2="495.18" y2="536.69" stroke="#f7882f" stroke-width="0.8"/>
<line x1="499.30" y1="504.24" x2="499.30" y2="528.80" stroke="#f7882f" stroke-width="0.8"/>
<line x1="497.80" y1="504.24" x2="500.80" y2="504.24" stroke="#f7882f" stroke-width="0.8"/>
<line x1="497.80" y1="528.80" x2="500.80" y2="528.80" stroke="#f7882f" stroke-width="0.8"/>
<line x1="508.49" y1="496.98" x2="508.49" y2="528.80" stroke="#f7882f" stroke-width="0.8"/>
<line x1="506.99" y1="496.98" x2="509.99" y2="496.98" stroke="#f7882f" stroke-width="0.8"/>
<line x1="506.99" y1="528.80" x2="509.99" y2="528.80" stroke="#f7882f" stroke-width="0.8"/>
<line x1="514.49" y1="476.99" x2="514.49" y2="528.80" stroke="#f7882f" stroke-width="0.8"/>
<line x1="512.99" y1="476.99" x2="515.99" y2="476.99" stroke="#f7882f" stroke-width="0.8"/>
<line x1="512.99" y1="528.80" x2="515.99" y2="528.80" stroke="#f7882f" stroke-width="0.8"/>
<polyline points="348.18,547.47 353.80,547.47 361.30,547.47 366.93,547.47 374.43,547.47 380.05,547.47 387.55,547.47 393.18,547.47 400.68,547.47 406.30,547.47 413.80,547.47 419.43,547.47 426.93,547.47 432.55,547.47 440.05,547.47 446.61,546.95 453.18,544.84 460.49,542.58 466.86,541.00 473.43,539.22 479.99,537.90 485.61,535.80 493.68,524.91 499.30,519.18 508.49,514.49 514.49,503.61" fill="none" stroke="#f7882f" stroke-width="0.9" stroke-linejoin="round"/>
<polygon points="346.28,548.99 350.07,548.99 348.18,545.76" fill="#f7882f"/>
<polygon points="351.90,548.99 355.70,548.99 353.80,545.76" fill="#f7882f"/>
<polygon points="359.40,548.99 363.20,548.99 361.30,545.76" fill="#f7882f"/>
<polygon points="365.03,548.99 368.82,548.99 366.93,545.76" fill="#f7882f"/>
<polygon points="372.53,548.99 376.32,548.99 374.43,545.76" fill="#f7882f"/>
<polygon points="378.15,548.99 381.95,548.99 380.05,545.76" fill="#f7882f"/>
<polygon points="385.65,548.99 389.45,548.99 387.55,545.76" fill="#f7882f"/>
<polygon points="391.28,548.99 395.07,548.99 393.18,545.76" fill="#f7882f"/>
<polygon points="398.78,548.99 402.57,548.99 400.68,545.76" fill="#f7882f"/>
<polygon points="404.40,548.99 408.20,548.99 406.30,545.76" fill="#f7882f"/>
<polygon points="411.90,548.99 415.70,548.99 413.80,545.76" fill="#f7882f"/>
<polygon points="417.53,548.99 421.32,548.99 419.43,545.76" fill="#f7882f"/>
<polygon points="425.03,548.99 428.82,548.99 426.93,545.76" fill="#f7882f"/>
<polygon points="430.65,548.99 434.45,548.99 432.55,545.76" fill="#f7882f"/>
<polygon points="438.15,548.99 441.95,548.99 440.05,545.76" fill="#f7882f"/>
<polygon points="444.71,548.47 448.51,548.47 446.61,545.24" fill="#f7882f"/>
<polygon points="451.28,546.36 455.07,546.36 453.18,543.13" fill="#f7882f"/>
<polygon points="458.59,544.10 462.39,544.10 460.49,540.87" fill="#f7882f"/>
<polygon points="464.96,542.52 468.76,542.52 466.86,539.29" fill="#f7882f"/>
<polygon points="471.53,540.74 475.32,540.74 473.43,537.51" fill="#f7882f"/>
<polygon points="478.09,539.42 481.89,539.42 479.99,536.19" fill="#f7882f"/>
<polygon points="483.71,537.32 487.51,537.32 485.61,534.09" fill="#f7882f"/>
<polygon points="491.78,526.43 495.57,526.43 493.68,523.20" fill="#f7882f"/>
<polygon points="497.40,520.70 501.20,520.70 499.30,517.47" fill="#f7882f"/>
<polygon points="506.59,516.01 510.39,516.01 508.49,512.78" fill="#f7882f"/>
<polygon points="512.59,505.13 516.39,505.13 514.49,501.90" fill="#f7882f"/>
<polyline points="348.18,548.00 353.80,548.00 361.30,548.00 366.93,548.00 374.43,548.00 380.05,548.00 387.55,548.00 393.18,548.00 400.68,548.00 406.30,548.00 413.80,548.00 419.43,548.00 426.93,548.00 432.55,548.00 440.05,548.00 446.61,548.00 453.18,548.00 460.49,548.00 466.86,548.00 473.43,548.00 479.99,548.00 485.61,548.00 493.68,547.47 499.30,546.53 508.49,545.79 514.49,544.74" fill="none" stroke="#1f1fe6" stroke-width="0.9" stroke-linejoin="round"/>
<line x1="508.49" y1="543.27" x2="508.49" y2="547.47" stroke="#1f1fe6" stroke-width="0.8"/>
<line x1="506.99" y1="543.27" x2="509.99" y2="543.27" stroke="#1f1fe6" stroke-width="0.8"/>
<line x1="506.99" y1="547.47" x2="509.99" y2="547.47" stroke="#1f1fe6" stroke-width="0.8"/>
<line x1="514.49" y1="537.48" x2="514.49" y2="546.95" stroke="#1f1fe6" stroke-width="0.8"/>
<line x1="512.99" y1="537.48" x2="515.99" y2="537.48" stroke="#1f1fe6" stroke-width="0.8"/>
<line x1="512.99" y1="546.95" x2="515.99" y2="546.95" stroke="#1f1fe6" stroke-width="0.8"/>
<circle cx="348.18" cy="547.50" r="1.9" fill="#2424c8" stroke="#1a1a80" stroke-width="0.7"/>
<circle cx="353.80" cy="547.50" r="1.9" fill="#2424c8" stroke="#1a1a80" stroke-width="0.7"/>
<circle cx="361.30" cy="547.50" r="1.9" fill="#2424c8" stroke="#1a1a80" stroke-width="0.7"/>
<circle cx="366.93" cy="547.50" r="1.9" fill="#2424c8" stroke="#1a1a80" stroke-width="0.7"/>
<circle cx="374.43" cy="547.50" r="1.9" fill="#2424c8" stroke="#1a1a80" stroke-width="0.7"/>
<circle cx="380.05" cy="547.50" r="1.9" fill="#2424c8" stroke="#1a1a80" stroke-width="0.7"/>
<circle cx="387.55" cy="547.50" r="1.9" fill="#2424c8" stroke="#1a1a80" stroke-width="0.7"/>
<circle cx="393.18" cy="547.50" r="1.9" fill="#2424c8" stroke="#1a1a80" stroke-width="0.7"/>
<circle cx="400.68" cy="547.50" r="1.9" fill="#2424c8" stroke="#1a1a80" stroke-width="0.7"/>
<circle cx="406.30" cy="547.50" r="1.9" fill="#2424c8" stroke="#1a1a80" stroke-width="0.7"/>
<circle cx="413.80" cy="547.50" r="1.9" fill="#2424c8" stroke="#1a1a80" stroke-width="0.7"/>
<circle cx="419.43" cy="547.50" r="1.9" fill="#2424c8" stroke="#1a1a80" stroke-width="0.7"/>
<circle cx="426.93" cy="547.50" r="1.9" fill="#2424c8" stroke="#1a1a80" stroke-width="0.7"/>
<circle cx="432.55" cy="547.50" r="1.9" fill="#2424c8" stroke="#1a1a80" stroke-width="0.7"/>
<circle cx="440.05" cy="547.50" r="1.9" fill="#2424c8" stroke="#1a1a80" stroke-width="0.7"/>
<circle cx="446.61" cy="547.50" r="1.9" fill="#2424c8" stroke="#1a1a80" stroke-width="0.7"/>
<circle cx="453.18" cy="547.50" r="1.9" fill="#2424c8" stroke="#1a1a80" stroke-width="0.7"/>
<circle cx="460.49" cy="547.50" r="1.9" fill="#2424c8" stroke="#1a1a80" stroke-width="0.7"/>
<circle cx="466.86" cy="547.50" r="1.9" fill="#2424c8" stroke="#1a1a80" stroke-width="0.7"/>
<circle cx="473.43" cy="547.50" r="1.9" fill="#2424c8" stroke="#1a1a80" stroke-width="0.7"/>
<circle cx="479.99" cy="547.50" r="1.9" fill="#2424c8" stroke="#1a1a80" stroke-width="0.7"/>
<circle cx="485.61" cy="547.50" r="1.9" fill="#2424c8" stroke="#1a1a80" stroke-width="0.7"/>
<circle cx="493.68" cy="546.97" r="1.9" fill="#2424c8" stroke="#1a1a80" stroke-width="0.7"/>
<circle cx="499.30" cy="546.03" r="1.9" fill="#2424c8" stroke="#1a1a80" stroke-width="0.7"/>
<circle cx="508.49" cy="545.29" r="1.9" fill="#2424c8" stroke="#1a1a80" stroke-width="0.7"/>
<circle cx="514.49" cy="544.24" r="1.9" fill="#2424c8" stroke="#1a1a80" stroke-width="0.7"/>
<circle cx="405.30" cy="384.50" r="2.2" fill="#fff" stroke="#222" stroke-width="1.0"/>
<polygon points="405.3,383.2 406.6,384.5 405.3,385.8 404.0,384.5" fill="#888" stroke="#222" stroke-width="0.6"/>
<rect x="403.0" y="391.1" width="4.6" height="4" rx="1.4" fill="#c7a3c7" stroke="#8a3f8e" stroke-width="1.3"/>
<polygon points="402.90000000000003,403.8 407.7,403.8 405.3,399.7" fill="#b8b8e0" stroke="#2e2e9a" stroke-width="1.1"/>
<polygon points="405.3,408.5 407.6,410.8 405.3,413.1 403.0,410.8" fill="#ddd" stroke="#222" stroke-width="1.1"/>
<circle cx="405.30" cy="419.60" r="2.2" fill="#1f1fe6"/>
<polygon points="405.30,425.80 405.99,427.45 407.77,427.60 406.41,428.76 406.83,430.50 405.30,429.57 403.77,430.50 404.19,428.76 402.83,427.60 404.61,427.45" fill="#f7882f"/>
<text x="410.70" y="386.80" font-size="6.55" text-anchor="start" font-weight="normal" font-style="normal" fill="#222">No treatment (right)</text>
<text x="410.70" y="395.40" font-size="6.55" text-anchor="start" font-weight="normal" font-style="normal" fill="#222">CD70<tspan dy="-2.4" font-size="4.5">−</tspan><tspan dy="2.4"> CTX130 (right)</tspan></text>
<text x="410.70" y="404.30" font-size="6.55" text-anchor="start" font-weight="normal" font-style="normal" fill="#222">CD70<tspan dy="-2.4" font-size="4.5">−</tspan><tspan dy="2.4"> PD1</tspan><tspan dy="-2.4" font-size="4.5">−</tspan><tspan dy="2.4"> CTX130 (right)</tspan></text>
<text x="410.70" y="413.10" font-size="6.55" text-anchor="start" font-weight="normal" font-style="normal" fill="#222">No treatment (left)</text>
<text x="410.70" y="421.90" font-size="6.55" text-anchor="start" font-weight="normal" font-style="normal" fill="#222">CD70<tspan dy="-2.4" font-size="4.5">−</tspan><tspan dy="2.4"> CTX130 (left)</tspan></text>
<text x="410.70" y="430.70" font-size="6.55" text-anchor="start" font-weight="normal" font-style="normal" fill="#222">CD70<tspan dy="-2.4" font-size="4.5">−</tspan><tspan dy="2.4"> PD1</tspan><tspan dy="-2.4" font-size="4.5">−</tspan><tspan dy="2.4"> CTX130 (left)</tspan></text>
<line x1="338.30" y1="577.00" x2="338.30" y2="595.70" stroke="#222" stroke-width="1.2"/>
<polygon points="338.3,571 335.3,577.8 341.3,577.8" fill="#111"/>
<line x1="377.80" y1="577.00" x2="377.80" y2="619.90" stroke="#222" stroke-width="1.2"/>
<polygon points="377.8,571 374.8,577.8 380.8,577.8" fill="#111"/>
<line x1="377.20" y1="619.90" x2="384.50" y2="619.90" stroke="#222" stroke-width="1.2"/>
<rect x="258.5" y="595.7" width="113.5" height="81.8" fill="#fff" stroke="#333" stroke-width="0.9"/>
<rect x="384.5" y="596.1" width="134.7" height="68" fill="#fff" stroke="#333" stroke-width="0.9"/>
<text x="261.80" y="606.10" font-size="8.6" text-anchor="start" font-weight="normal" font-style="normal" fill="#111" stroke="#111" stroke-width="0.15">Day 1: Right flank: animals</text>
<text x="261.80" y="615.78" font-size="8.6" text-anchor="start" font-weight="normal" font-style="normal" fill="#111" stroke="#111" stroke-width="0.15">with subcutaneous tumors</text>
<text x="261.80" y="625.46" font-size="8.6" text-anchor="start" font-weight="normal" font-style="normal" fill="#111" stroke="#111" stroke-width="0.15">averaging 50 mm<tspan dy="-3" font-size="5.5">3</tspan><tspan dy="3"> on their</tspan></text>
<text x="261.80" y="635.14" font-size="8.6" text-anchor="start" font-weight="normal" font-style="normal" fill="#111" stroke="#111" stroke-width="0.15">right flank were randomized</text>
<text x="261.80" y="644.82" font-size="8.6" text-anchor="start" font-weight="normal" font-style="normal" fill="#111" stroke="#111" stroke-width="0.15">and left untreated (open</text>
<text x="261.80" y="654.50" font-size="8.6" text-anchor="start" font-weight="normal" font-style="normal" fill="#111" stroke="#111" stroke-width="0.15">circle) or treated with</text>
<text x="261.80" y="664.18" font-size="8.6" text-anchor="start" font-weight="normal" font-style="normal" fill="#111" stroke="#111" stroke-width="0.15">~8 × 10<tspan dy="-3" font-size="5.5">6</tspan><tspan dy="3"> CTX130 or</tspan></text>
<text x="261.80" y="673.86" font-size="8.6" text-anchor="start" font-weight="normal" font-style="normal" fill="#111" stroke="#111" stroke-width="0.15">PD1<tspan dy="-3" font-size="5.5">−</tspan><tspan dy="3"> CTX130 cells</tspan></text>
<text x="389.40" y="604.80" font-size="8.6" text-anchor="start" font-weight="normal" font-style="normal" fill="#111" stroke="#111" stroke-width="0.15">Day 25: Left flank: new control</text>
<text x="389.40" y="613.28" font-size="8.6" text-anchor="start" font-weight="normal" font-style="normal" fill="#111" stroke="#111" stroke-width="0.15">group (open lozenge) or CAR T</text>
<text x="389.40" y="621.76" font-size="8.6" text-anchor="start" font-weight="normal" font-style="normal" fill="#111" stroke="#111" stroke-width="0.15">treated mice were inoculated</text>
<text x="389.40" y="630.24" font-size="8.6" text-anchor="start" font-weight="normal" font-style="normal" fill="#111" stroke="#111" stroke-width="0.15">subcutaneously with fresh tumor</text>
<text x="389.40" y="638.72" font-size="8.6" text-anchor="start" font-weight="normal" font-style="normal" fill="#111" stroke="#111" stroke-width="0.15">cells in the left flank, opposite of</text>
<text x="389.40" y="647.20" font-size="8.6" text-anchor="start" font-weight="normal" font-style="normal" fill="#111" stroke="#111" stroke-width="0.15">the original tumors on the</text>
<text x="389.40" y="655.68" font-size="8.6" text-anchor="start" font-weight="normal" font-style="normal" fill="#111" stroke="#111" stroke-width="0.15">right flank.</text>
<text x="1.00" y="558.50" font-size="10.5" text-anchor="start" font-weight="bold" font-style="normal" fill="#000" stroke="#000" stroke-width="0.15">F</text>
<line x1="38.30" y1="565.75" x2="38.30" y2="686.00" stroke="#666666" stroke-width="1"/>
<line x1="38.30" y1="686.00" x2="215.00" y2="686.00" stroke="#666666" stroke-width="1"/>
<line x1="35.10" y1="686.00" x2="38.30" y2="686.00" stroke="#666666" stroke-width="1"/>
<text x="33.10" y="688.80" font-size="8.6" text-anchor="end" font-weight="normal" font-style="normal" fill="#1a1a1a" stroke="#1a1a1a" stroke-width="0.15">0</text>
<line x1="35.10" y1="655.94" x2="38.30" y2="655.94" stroke="#666666" stroke-width="1"/>
<text x="33.10" y="658.74" font-size="8.6" text-anchor="end" font-weight="normal" font-style="normal" fill="#1a1a1a" stroke="#1a1a1a" stroke-width="0.15">25</text>
<line x1="35.10" y1="625.88" x2="38.30" y2="625.88" stroke="#666666" stroke-width="1"/>
<text x="33.10" y="628.67" font-size="8.6" text-anchor="end" font-weight="normal" font-style="normal" fill="#1a1a1a" stroke="#1a1a1a" stroke-width="0.15">50</text>
<line x1="35.10" y1="595.81" x2="38.30" y2="595.81" stroke="#666666" stroke-width="1"/>
<text x="33.10" y="598.61" font-size="8.6" text-anchor="end" font-weight="normal" font-style="normal" fill="#1a1a1a" stroke="#1a1a1a" stroke-width="0.15">75</text>
<line x1="35.10" y1="565.75" x2="38.30" y2="565.75" stroke="#666666" stroke-width="1"/>
<text x="33.10" y="568.55" font-size="8.6" text-anchor="end" font-weight="normal" font-style="normal" fill="#1a1a1a" stroke="#1a1a1a" stroke-width="0.15">100</text>
<line x1="38.30" y1="686.00" x2="38.30" y2="689.00" stroke="#666666" stroke-width="1"/>
<text x="38.30" y="701.00" font-size="8.6" text-anchor="middle" font-weight="normal" font-style="normal" fill="#1a1a1a" stroke="#1a1a1a" stroke-width="0.15">0</text>
<line x1="65.80" y1="686.00" x2="65.80" y2="689.00" stroke="#666666" stroke-width="1"/>
<text x="65.80" y="701.00" font-size="8.6" text-anchor="middle" font-weight="normal" font-style="normal" fill="#1a1a1a" stroke="#1a1a1a" stroke-width="0.15">14</text>
<line x1="93.30" y1="686.00" x2="93.30" y2="689.00" stroke="#666666" stroke-width="1"/>
<text x="93.30" y="701.00" font-size="8.6" text-anchor="middle" font-weight="normal" font-style="normal" fill="#1a1a1a" stroke="#1a1a1a" stroke-width="0.15">28</text>
<line x1="120.80" y1="686.00" x2="120.80" y2="689.00" stroke="#666666" stroke-width="1"/>
<text x="120.80" y="701.00" font-size="8.6" text-anchor="middle" font-weight="normal" font-style="normal" fill="#1a1a1a" stroke="#1a1a1a" stroke-width="0.15">42</text>
<line x1="148.30" y1="686.00" x2="148.30" y2="689.00" stroke="#666666" stroke-width="1"/>
<text x="148.30" y="701.00" font-size="8.6" text-anchor="middle" font-weight="normal" font-style="normal" fill="#1a1a1a" stroke="#1a1a1a" stroke-width="0.15">56</text>
<line x1="175.80" y1="686.00" x2="175.80" y2="689.00" stroke="#666666" stroke-width="1"/>
<text x="175.80" y="701.00" font-size="8.6" text-anchor="middle" font-weight="normal" font-style="normal" fill="#1a1a1a" stroke="#1a1a1a" stroke-width="0.15">70</text>
<line x1="203.30" y1="686.00" x2="203.30" y2="689.00" stroke="#666666" stroke-width="1"/>
<text x="203.30" y="701.00" font-size="8.6" text-anchor="middle" font-weight="normal" font-style="normal" fill="#1a1a1a" stroke="#1a1a1a" stroke-width="0.15">84</text>
<text x="136.00" y="712.30" font-size="8.6" text-anchor="middle" font-weight="normal" font-style="normal" fill="#1a1a1a" stroke="#1a1a1a" stroke-width="0.15">Study day</text>
<text x="10.70" y="627.50" font-size="8.6" text-anchor="middle" font-weight="normal" font-style="normal" fill="#1a1a1a" stroke="#1a1a1a" stroke-width="0.15" transform="rotate(-90 10.7 627.5)">Percent survival</text>
<line x1="38.30" y1="565.75" x2="203.00" y2="565.75" stroke="#707070" stroke-width="1.4"/>
<line x1="203.00" y1="560.95" x2="203.00" y2="566.45" stroke="#666" stroke-width="1.0"/>
<polyline points="38.3,565.75 66.25,565.75 66.25,593.75 67.5,593.75 67.5,642 70,642 70,650.75 71.25,650.75 71.25,674.5 73.75,674.5 73.75,681.25 76.25,681.25 76.25,683 79.5,683 79.5,686" fill="none" stroke="#555" stroke-width="1.1" stroke-dasharray="1.3 0.9"/>
<line x1="110.5" y1="610.5" x2="121.5" y2="610.5" stroke="#555" stroke-width="1.1" stroke-dasharray="1.3 0.9"/>
<line x1="110.50" y1="621.60" x2="121.50" y2="621.60" stroke="#b5b5b5" stroke-width="0.9"/>
<line x1="110.50" y1="633.50" x2="121.50" y2="633.50" stroke="#777" stroke-width="1.5"/>
<text x="125.00" y="612.60" font-size="6.5" text-anchor="start" font-weight="normal" font-style="normal" fill="#1a1a1a">Unedited T cells</text>
<text x="125.00" y="624.60" font-size="6.5" text-anchor="start" font-weight="normal" font-style="normal" fill="#1a1a1a">CTX130 (low)</text>
<text x="125.00" y="636.30" font-size="6.5" text-anchor="start" font-weight="normal" font-style="normal" fill="#1a1a1a">CTX130 (high)</text>
</svg></body></html>
